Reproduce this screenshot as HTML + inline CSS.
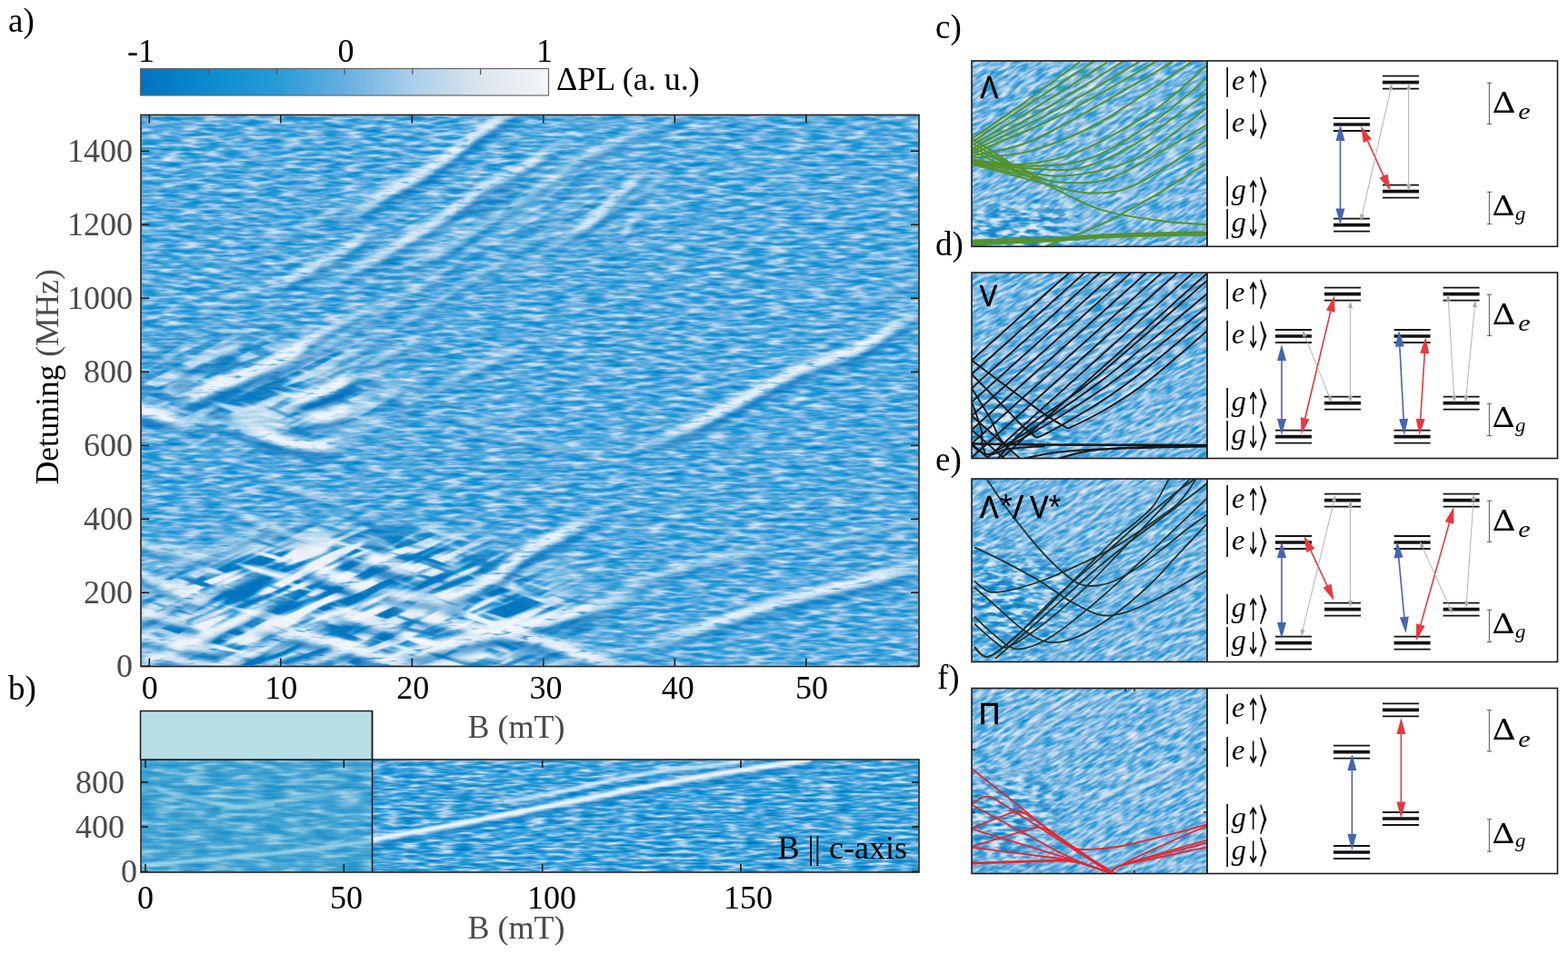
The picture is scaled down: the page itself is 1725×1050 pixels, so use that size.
<!DOCTYPE html>
<html><head><meta charset="utf-8"><title>Figure</title>
<style>
html,body{margin:0;padding:0;background:#fff;width:1725px;height:1050px;overflow:hidden}
svg{position:absolute;left:0;top:0;display:block}
.s{font-family:"Liberation Serif","DejaVu Serif",serif;font-size:36px}
.g{fill:#4a4a4a}
.k{fill:#000}
.ss{font-family:"Liberation Sans","DejaVu Sans",sans-serif}
</style></head>
<body>
<svg width="1725" height="1050" viewBox="0 0 1725 1050">
<defs>
<linearGradient id="cb" x1="0" x2="1" y1="0" y2="0">
<stop offset="0" stop-color="#0073bd"/><stop offset="0.167" stop-color="#0b8cce"/><stop offset="0.333" stop-color="#259bd7"/>
<stop offset="0.5" stop-color="#66afe0"/><stop offset="0.667" stop-color="#a9cfec"/><stop offset="0.833" stop-color="#dce5ee"/>
<stop offset="1" stop-color="#f3f5f8"/></linearGradient>
<filter id="nzA" x="0" y="0" width="100%" height="100%" color-interpolation-filters="sRGB">
<feTurbulence type="fractalNoise" baseFrequency="0.045 0.24" numOctaves="2" seed="7"/>
<feColorMatrix type="matrix" values="1 0 0 0 0 1 0 0 0 0 1 0 0 0 0 0 0 0 0 1"/>
<feComponentTransfer>
<feFuncR type="table" tableValues="0.000 0.000 0.012 0.027 0.039 0.067 0.102 0.133 0.192 0.275 0.353 0.435 0.518 0.600 0.678 0.741 0.804 0.867 0.894 0.922 0.949"/>
<feFuncG type="table" tableValues="0.451 0.451 0.478 0.510 0.541 0.565 0.580 0.600 0.624 0.647 0.671 0.702 0.741 0.780 0.820 0.847 0.875 0.898 0.918 0.937 0.961"/>
<feFuncB type="table" tableValues="0.741 0.741 0.761 0.780 0.804 0.816 0.827 0.839 0.851 0.863 0.871 0.886 0.898 0.914 0.925 0.929 0.929 0.933 0.945 0.961 0.973"/>
</feComponentTransfer>
</filter>
<filter id="nzA2" x="0" y="0" width="100%" height="100%" color-interpolation-filters="sRGB">
<feTurbulence type="fractalNoise" baseFrequency="0.03 0.1" numOctaves="2" seed="19"/>
<feColorMatrix type="matrix" values="1 0 0 0 0 1 0 0 0 0 1 0 0 0 0 0 0 0 0 1"/>
<feComponentTransfer>
<feFuncR type="table" tableValues="0.000 0.000 0.000 0.000 0.000 0.000 0.000 0.000 0.012 0.094 0.322 0.635 0.871 0.953 0.953 0.953 0.953 0.953 0.953 0.953 0.953"/>
<feFuncG type="table" tableValues="0.451 0.451 0.451 0.451 0.451 0.451 0.451 0.451 0.482 0.580 0.663 0.800 0.906 0.961 0.961 0.961 0.961 0.961 0.961 0.961 0.961"/>
<feFuncB type="table" tableValues="0.741 0.741 0.741 0.741 0.741 0.741 0.741 0.741 0.761 0.824 0.867 0.922 0.937 0.973 0.973 0.973 0.973 0.973 0.973 0.973 0.973"/>
</feComponentTransfer>
</filter>
<filter id="nzX1" x="0" y="0" width="100%" height="100%" color-interpolation-filters="sRGB">
<feTurbulence type="fractalNoise" baseFrequency="0.012 0.1" numOctaves="2" seed="41"/>
<feColorMatrix type="matrix" values="1 0 0 0 0 1 0 0 0 0 1 0 0 0 0 0 0 0 0 1"/>
<feComponentTransfer>
<feFuncR type="table" tableValues="0.000 0.000 0.000 0.000 0.000 0.000 0.000 0.000 0.008 0.114 0.447 0.800 0.953 0.953 0.953 0.953 0.953 0.953 0.953 0.953 0.953"/>
<feFuncG type="table" tableValues="0.451 0.451 0.451 0.451 0.451 0.451 0.451 0.451 0.471 0.588 0.710 0.871 0.961 0.961 0.961 0.961 0.961 0.961 0.961 0.961 0.961"/>
<feFuncB type="table" tableValues="0.741 0.741 0.741 0.741 0.741 0.741 0.741 0.741 0.753 0.831 0.886 0.929 0.973 0.973 0.973 0.973 0.973 0.973 0.973 0.973 0.973"/>
</feComponentTransfer>
</filter>
<filter id="nzX2" x="0" y="0" width="100%" height="100%" color-interpolation-filters="sRGB">
<feTurbulence type="fractalNoise" baseFrequency="0.02 0.085" numOctaves="2" seed="43"/>
<feColorMatrix type="matrix" values="1 0 0 0 0 1 0 0 0 0 1 0 0 0 0 0 0 0 0 1"/>
<feComponentTransfer>
<feFuncR type="table" tableValues="0.000 0.000 0.000 0.000 0.000 0.000 0.000 0.000 0.000 0.082 0.447 0.859 0.953 0.953 0.953 0.953 0.953 0.953 0.953 0.953 0.953"/>
<feFuncG type="table" tableValues="0.451 0.451 0.451 0.451 0.451 0.451 0.451 0.451 0.451 0.573 0.710 0.898 0.961 0.961 0.961 0.961 0.961 0.961 0.961 0.961 0.961"/>
<feFuncB type="table" tableValues="0.741 0.741 0.741 0.741 0.741 0.741 0.741 0.741 0.741 0.820 0.886 0.933 0.973 0.973 0.973 0.973 0.973 0.973 0.973 0.973 0.973"/>
</feComponentTransfer>
</filter>
<filter id="nzX2w" x="0" y="0" width="100%" height="100%" color-interpolation-filters="sRGB"><feTurbulence type="fractalNoise" baseFrequency="0.012 0.1" numOctaves="2" seed="43"/>
<feColorMatrix type="matrix" values="0 0 0 0 0.95 0 0 0 0 0.965 0 0 0 0 0.98 6 0 0 0 -3.3"/></filter>
<filter id="nzX2d" x="0" y="0" width="100%" height="100%" color-interpolation-filters="sRGB"><feTurbulence type="fractalNoise" baseFrequency="0.012 0.1" numOctaves="2" seed="43"/>
<feColorMatrix type="matrix" values="0 0 0 0 0.02 0 0 0 0 0.47 0 0 0 0 0.76 -6 0 0 0 2.5"/></filter>
<radialGradient id="gA1" cx="390" cy="680" r="1" gradientUnits="userSpaceOnUse" gradientTransform="translate(390 680) scale(290 120) translate(-390 -680)">
<stop offset="0" stop-color="#fff" stop-opacity="1"/><stop offset="0.65" stop-color="#fff" stop-opacity="0.95"/><stop offset="1" stop-color="#fff" stop-opacity="0"/></radialGradient>
<radialGradient id="gA2" cx="290" cy="430" r="1" gradientUnits="userSpaceOnUse" gradientTransform="translate(290 430) scale(200 80) translate(-290 -430)">
<stop offset="0" stop-color="#fff" stop-opacity="0.8"/><stop offset="0.5" stop-color="#fff" stop-opacity="0.6"/><stop offset="1" stop-color="#fff" stop-opacity="0"/></radialGradient>
<radialGradient id="gA3" cx="560" cy="230" r="1" gradientUnits="userSpaceOnUse" gradientTransform="translate(560 230) scale(260 110) translate(-560 -230)">
<stop offset="0" stop-color="#fff" stop-opacity="0.35"/><stop offset="1" stop-color="#fff" stop-opacity="0"/></radialGradient>
<mask id="mA2" maskUnits="userSpaceOnUse" x="0" y="0" width="1725" height="1050"><rect x="0" y="0" width="1725" height="1050" fill="#000"/>
<rect x="0" y="0" width="1725" height="1050" fill="url(#gA1)"/><rect x="0" y="0" width="1725" height="1050" fill="url(#gA2)"/><rect x="0" y="0" width="1725" height="1050" fill="url(#gA3)"/></mask>
<filter id="nzB" x="0" y="0" width="100%" height="100%" color-interpolation-filters="sRGB">
<feTurbulence type="fractalNoise" baseFrequency="0.05 0.3" numOctaves="2" seed="11"/>
<feColorMatrix type="matrix" values="1 0 0 0 0 1 0 0 0 0 1 0 0 0 0 0 0 0 0 1"/>
<feComponentTransfer>
<feFuncR type="table" tableValues="0.000 0.000 0.000 0.000 0.016 0.031 0.051 0.086 0.125 0.184 0.278 0.369 0.463 0.557 0.651 0.725 0.800 0.867 0.898 0.929 0.953"/>
<feFuncG type="table" tableValues="0.451 0.451 0.451 0.451 0.486 0.522 0.553 0.576 0.596 0.620 0.647 0.678 0.718 0.761 0.808 0.839 0.871 0.902 0.922 0.945 0.961"/>
<feFuncB type="table" tableValues="0.741 0.741 0.741 0.741 0.765 0.788 0.812 0.824 0.835 0.847 0.863 0.875 0.890 0.906 0.925 0.929 0.929 0.933 0.949 0.965 0.973"/>
</feComponentTransfer>
</filter>
<filter id="nzBL" x="0" y="0" width="100%" height="100%" color-interpolation-filters="sRGB">
<feTurbulence type="fractalNoise" baseFrequency="0.035 0.2" numOctaves="2" seed="23"/>
<feColorMatrix type="matrix" values="1 0 0 0 0 1 0 0 0 0 1 0 0 0 0 0 0 0 0 1"/>
<feComponentTransfer>
<feFuncR type="table" tableValues="0.118 0.118 0.118 0.118 0.124 0.151 0.177 0.203 0.230 0.256 0.282 0.338 0.393 0.448 0.503 0.558 0.614 0.627 0.627 0.627 0.627"/>
<feFuncG type="table" tableValues="0.569 0.569 0.569 0.569 0.572 0.585 0.598 0.611 0.625 0.638 0.651 0.679 0.706 0.734 0.761 0.789 0.817 0.824 0.824 0.824 0.824"/>
<feFuncB type="table" tableValues="0.796 0.796 0.796 0.796 0.797 0.803 0.809 0.814 0.820 0.826 0.831 0.841 0.851 0.861 0.872 0.882 0.892 0.894 0.894 0.894 0.894"/>
</feComponentTransfer>
</filter>
<filter id="blur1" x="-5%" y="-20%" width="110%" height="140%"><feGaussianBlur stdDeviation="1.2"/></filter>
<filter id="nzP" x="0" y="0" width="100%" height="100%" color-interpolation-filters="sRGB">
<feTurbulence type="fractalNoise" baseFrequency="0.07 0.3" numOctaves="2" seed="5"/>
<feColorMatrix type="matrix" values="1 0 0 0 0 1 0 0 0 0 1 0 0 0 0 0 0 0 0 1"/>
<feComponentTransfer>
<feFuncR type="table" tableValues="0.012 0.027 0.039 0.063 0.094 0.125 0.173 0.247 0.325 0.400 0.478 0.557 0.635 0.702 0.761 0.824 0.871 0.898 0.925 0.953 0.953"/>
<feFuncG type="table" tableValues="0.478 0.510 0.541 0.561 0.580 0.596 0.616 0.639 0.663 0.686 0.725 0.761 0.800 0.827 0.855 0.882 0.906 0.922 0.941 0.961 0.961"/>
<feFuncB type="table" tableValues="0.761 0.780 0.800 0.816 0.824 0.835 0.847 0.859 0.867 0.878 0.894 0.906 0.922 0.925 0.929 0.933 0.937 0.949 0.961 0.973 0.973"/>
</feComponentTransfer>
</filter>
<filter id="nzP2" x="0" y="0" width="100%" height="100%" color-interpolation-filters="sRGB">
<feTurbulence type="fractalNoise" baseFrequency="0.07 0.2" numOctaves="2" seed="31"/>
<feColorMatrix type="matrix" values="1 0 0 0 0 1 0 0 0 0 1 0 0 0 0 0 0 0 0 1"/>
<feComponentTransfer>
<feFuncR type="table" tableValues="0.000 0.000 0.000 0.000 0.000 0.000 0.000 0.012 0.059 0.141 0.353 0.573 0.761 0.894 0.953 0.953 0.953 0.953 0.953 0.953 0.953"/>
<feFuncG type="table" tableValues="0.451 0.451 0.451 0.451 0.451 0.451 0.451 0.478 0.557 0.608 0.671 0.769 0.855 0.918 0.961 0.961 0.961 0.961 0.961 0.961 0.961"/>
<feFuncB type="table" tableValues="0.741 0.741 0.741 0.741 0.741 0.741 0.741 0.761 0.812 0.843 0.871 0.910 0.929 0.945 0.973 0.973 0.973 0.973 0.973 0.973 0.973"/>
</feComponentTransfer>
</filter>
<linearGradient id="fadeW" x1="0" x2="1" y1="0" y2="0"><stop offset="0" stop-color="#f2f6fa" stop-opacity="0"/><stop offset="0.22" stop-color="#f2f6fa" stop-opacity="1"/><stop offset="0.78" stop-color="#f2f6fa" stop-opacity="1"/><stop offset="1" stop-color="#f2f6fa" stop-opacity="0"/></linearGradient>
<linearGradient id="fadeD" x1="0" x2="1" y1="0" y2="0"><stop offset="0" stop-color="#0070bb" stop-opacity="0"/><stop offset="0.22" stop-color="#0070bb" stop-opacity="1"/><stop offset="0.78" stop-color="#0070bb" stop-opacity="1"/><stop offset="1" stop-color="#0070bb" stop-opacity="0"/></linearGradient>
<filter id="nzMaskF" x="0" y="0" width="100%" height="100%" color-interpolation-filters="sRGB"><feTurbulence type="fractalNoise" baseFrequency="0.06 0.3" numOctaves="2" seed="77"/>
<feColorMatrix type="matrix" values="0 0 0 0 1 0 0 0 0 1 0 0 0 0 1 3 0 0 0 -0.4"/></filter>
<mask id="mNoise" maskUnits="userSpaceOnUse" x="150" y="120" width="870" height="620"><rect x="150" y="120" width="870" height="620" filter="url(#nzMaskF)"/></mask>
<filter id="blur15" x="-5%" y="-5%" width="110%" height="110%"><feGaussianBlur stdDeviation="2.3"/></filter>
<filter id="blur2" x="-5%" y="-5%" width="110%" height="110%"><feGaussianBlur stdDeviation="3.2"/></filter>
</defs>
<rect width="1725" height="1050" fill="#fff"/>
<text class="s k" x="9" y="35" style="font-size:37px">a)</text>
<text class="s k" x="9" y="770" style="font-size:37px">b)</text>
<rect x="154.5" y="75.5" width="449" height="29.5" fill="url(#cb)" stroke="#666" stroke-width="1.2"/>
<g stroke="#555" stroke-width="1.2">
<line x1="229.3" y1="76" x2="229.3" y2="82"/>
<line x1="304.2" y1="76" x2="304.2" y2="82"/>
<line x1="379" y1="76" x2="379" y2="82"/>
<line x1="453.8" y1="76" x2="453.8" y2="82"/>
<line x1="528.6" y1="76" x2="528.6" y2="82"/>
</g>
<text class="s k" x="155" y="68" text-anchor="middle">-1</text>
<text class="s k" x="380.5" y="68" text-anchor="middle">0</text>
<text class="s k" x="599" y="68" text-anchor="middle">1</text>
<text class="s k" x="612" y="99">ΔPL (a. u.)</text>
<clipPath id="clipA"><rect x="155.8" y="127.3" width="854.4" height="605.2"/></clipPath>
<g clip-path="url(#clipA)">
<rect x="155.8" y="127.3" width="854.4" height="605.2" filter="url(#nzA)"/>
<g mask="url(#mA2)">
<rect x="-100" y="300" width="1000" height="700" transform="rotate(-24 400 650)" filter="url(#nzX1)"/>
<rect x="-100" y="300" width="1000" height="700" transform="rotate(16 400 650)" filter="url(#nzX2w)"/>
<rect x="-100" y="300" width="1000" height="700" transform="rotate(16 400 650)" filter="url(#nzX2d)"/>
</g>
<g filter="url(#blur2)" fill="none" stroke-linecap="round" stroke-linejoin="round">
<path d="M374.2,251.1 C379.3,248.7 397,241 404.8,236.8 C412.6,232.5 412.5,230.6 421.1,225.6 C429.6,220.6 446.2,212.2 455.9,206.7 C465.7,201.2 471.4,197.5 479.4,192.4 C487.4,187.3 496.1,181.9 504,176 C511.9,170.1 517.8,163.7 526.9,157.1 C536,150.5 546.9,143.9 558.5,136.4 C570,128.8 589.8,115.8 596.1,111.7" stroke="url(#fadeD)" stroke-width="8.8" stroke-opacity="0.72"/>
<path d="M294.2,330.6 C301.7,326.5 325.8,312.9 339.1,305.7 C352.5,298.5 363.8,293.6 374.3,287.6 C384.9,281.6 394.2,274.5 402.5,269.5 C410.8,264.5 420.6,259.7 424.2,257.7" stroke="url(#fadeD)" stroke-width="7.7" stroke-opacity="0.60"/>
<path d="M348.7,325.9 C354.1,323.4 369.7,316.5 381,310.8 C392.2,305.1 403.9,298.7 416.3,291.6 C428.7,284.6 443,275.9 455.5,268.5 C467.9,261.1 479.3,255.2 490.9,247.2 C502.6,239.3 517.6,226.9 525.3,220.9 C533,215 529.6,215.9 537.2,211.7 C544.9,207.5 559.6,201.9 571.1,195.7 C582.7,189.5 596.6,180.5 606.6,174.5 C616.5,168.4 623.5,163.9 630.7,159.4 C637.8,154.9 646.5,149.4 649.7,147.4" stroke="url(#fadeD)" stroke-width="7.7" stroke-opacity="0.60"/>
<path d="M623.2,266.1 C626.8,264.7 637.7,261.4 644.3,257.6 C650.9,253.8 657.1,248.7 662.9,243.5 C668.7,238.3 671.8,233 679,226.4 C686.1,219.8 698.7,209.5 705.6,203.7 C712.5,198 718,193.8 720.5,191.8" stroke="url(#fadeD)" stroke-width="7.7" stroke-opacity="0.60"/>
<path d="M688,263.8 C689.6,261.7 695,254.3 697.8,251 C700.5,247.8 703.3,245.5 704.4,244.4" stroke="url(#fadeD)" stroke-width="5.5" stroke-opacity="0.42"/>
<path d="M616,192.5 C620.5,190 633.8,182.1 642.8,177.6 C651.8,173.1 659.8,170.6 669.8,165.6 C679.8,160.6 697.5,150.5 703,147.5" stroke="url(#fadeD)" stroke-width="5.5" stroke-opacity="0.42"/>
<path d="M661.5,268.1 C665.6,267 679.1,264.2 685.9,261.9 C692.8,259.7 699.7,255.9 702.5,254.7" stroke="url(#fadeD)" stroke-width="5.5" stroke-opacity="0.42"/>
<path d="M621.3,184.1 C626.2,183.1 637.6,182.8 651.1,177.9 C664.7,173 689,160.7 702.5,154.7 C716.1,148.7 720.6,146.9 732.5,141.7 C744.4,136.6 766.9,126.8 773.8,123.8" stroke="url(#fadeD)" stroke-width="5.5" stroke-opacity="0.36"/>
<path d="M202.3,355.8 C210.6,352.5 235.4,341.2 251.9,336 C268.4,330.7 293.2,326.1 301.5,324.1" stroke="url(#fadeD)" stroke-width="5.5" stroke-opacity="0.30"/>
<path d="M192.3,415.8 C199.8,412.8 222.4,404.1 237.4,397.8 C252.5,391.4 275,381.1 282.5,377.7" stroke="url(#fadeD)" stroke-width="5.5" stroke-opacity="0.36"/>
<path d="M253.1,445.5 C261.4,440.8 286.3,426.6 303,417.5 C319.7,408.3 336.4,400 353.1,390.4 C369.8,380.9 386.6,370.8 403.3,360.3 C420.1,349.8 436.7,338.1 453.4,327.2 C470.1,316.4 488.4,305.2 503.5,295.2 C518.5,285.2 536.9,271.8 543.6,267.1" stroke="url(#fadeD)" stroke-width="5.5" stroke-opacity="0.36"/>
<path d="M333.1,425.5 C341.4,420.8 366.4,407.1 383.1,397.4 C399.8,387.7 416.5,377.4 433.2,367.4 C449.9,357.3 466.6,347.7 483.3,337.3 C500,327 516.7,315.9 533.4,305.3 C550.1,294.6 568.4,283.2 583.5,273.2 C598.5,263.2 616.9,249.8 623.6,245.1" stroke="url(#fadeD)" stroke-width="5.5" stroke-opacity="0.36"/>
<path d="M563.2,305.4 C571.5,300.4 596.5,285.4 613.2,275.4 C629.9,265.4 648.2,254.5 663.3,245.3 C678.3,236.2 690,228.6 703.3,220.3 C716.7,212 736.6,199.5 743.3,195.3" stroke="url(#fadeD)" stroke-width="5.5" stroke-opacity="0.36"/>
<path d="M189.6,457.6 C192.2,456.6 196.7,455.1 205,451.4 C213.4,447.8 227.2,440.6 239.6,435.6 C252.1,430.6 266.2,427 279.6,421.6 C293.1,416.2 310.3,408.3 320.6,403.2 C330.8,398.1 332.7,395.6 341.1,390.9 C349.5,386.2 365.9,377.7 370.9,375" stroke="url(#fadeD)" stroke-width="11" stroke-opacity="0.84"/>
<path d="M302.8,399 C305.4,397.9 307.4,398.1 318.3,392.7 C329.3,387.3 353.4,374.4 368.4,366.7 C383.4,359 395.9,353 408.4,346.7 C420.9,340.4 437.6,331.7 443.4,328.7" stroke="url(#fadeD)" stroke-width="6.6" stroke-opacity="0.54"/>
<path d="M313.2,454.1 C320.9,452 346.1,446.9 359.5,441.6 C372.9,436.4 386.3,427.1 393.6,422.6 C400.9,418.1 401.6,415.8 403.2,414.4" stroke="url(#fadeD)" stroke-width="11" stroke-opacity="0.84"/>
<path d="M331.8,473.1 C336.9,472.3 352.1,470.1 362.2,468 C372.3,466 387.5,462.1 392.6,461" stroke="url(#fadeD)" stroke-width="9.9" stroke-opacity="0.72"/>
<path d="M261.6,480.7 C265.7,482 278.1,486 286.6,488.7 C295.1,491.4 303,494.9 312.6,497 C322.2,499.1 332.3,500.5 344.4,501.2 C356.4,501.9 378.2,501.2 385,501.2" stroke="url(#fadeD)" stroke-width="9.9" stroke-opacity="0.72"/>
<path d="M103.6,450.4 C110.9,452.2 135.9,458.2 147.4,460.9 C158.8,463.7 162.3,464.4 172.3,466.9 C182.2,469.4 201.4,474.4 207.2,475.9" stroke="url(#fadeD)" stroke-width="9.9" stroke-opacity="0.72"/>
<path d="M109.4,380.7 C116.8,381.9 143.1,385.8 153.9,387.4 C164.6,389 170.6,389.9 173.9,390.4" stroke="url(#fadeD)" stroke-width="6.6" stroke-opacity="0.36"/>
<path d="M398.4,411.7 C400,410.9 398.3,411.6 408.3,406.8 C418.2,401.9 447.4,387.8 458.1,382.8 C468.9,377.8 470.3,377.9 472.8,377" stroke="url(#fadeD)" stroke-width="6.6" stroke-opacity="0.48"/>
<path d="M482.8,431 C486.2,429.6 493.1,427.5 503.2,422.8 C513.2,418.1 533.9,407.1 543.2,402.8 C552.4,398.5 552.2,399.6 558.8,397 C565.4,394.3 578.9,388.6 582.9,386.9" stroke="url(#fadeD)" stroke-width="6.6" stroke-opacity="0.48"/>
<path d="M418.5,449.2 C423.5,445.9 443.5,432.5 448.5,429.2" stroke="url(#fadeD)" stroke-width="5.5" stroke-opacity="0.42"/>
<path d="M500.6,470.2 C507.4,469.5 524.4,469.5 541.2,466.1 C558.1,462.8 591.5,452.7 601.6,450" stroke="url(#fadeD)" stroke-width="5.5" stroke-opacity="0.36"/>
<path d="M687.2,505.5 C693.2,503.5 710.6,498.1 723.5,493.4 C736.3,488.7 750.6,483.2 764.1,477.1 C777.6,471 790.3,464.3 804.6,456.9 C818.9,449.5 836.8,439.6 849.7,432.9 C862.5,426.1 870,421.3 881.9,416.2 C893.9,411.1 910.1,406.5 921.4,402.4 C932.6,398.4 939.2,397.1 949.5,391.9 C959.8,386.8 972.3,378.3 983.2,371.5 C994.2,364.8 1003.6,358.8 1015.3,351.5 C1027,344.2 1047.1,331.6 1053.5,327.6" stroke="url(#fadeD)" stroke-width="8.8" stroke-opacity="0.72"/>
<path d="M934.8,349.6 C941.5,346.3 961.8,336.1 974.8,329.6 C987.8,323.1 999.8,317.1 1012.8,310.6 C1025.8,304.1 1046.3,293.8 1053,290.5" stroke="url(#fadeD)" stroke-width="5.5" stroke-opacity="0.30"/>
<path d="M483.6,456.8 C495.6,461.7 532.6,479.1 555.2,486 C577.7,492.9 601,495.1 619,498.2 C637,501.2 655.8,503.2 663.2,504.2" stroke="url(#fadeD)" stroke-width="5.5" stroke-opacity="0.36"/>
<path d="M242.9,305.5 C252.9,300.2 282.9,284.2 302.9,273.5 C322.9,262.8 342.9,252.2 362.9,241.5 C382.9,230.9 404.6,219.2 422.9,209.5 C441.2,199.9 464.6,187.9 472.9,183.5" stroke="url(#fadeD)" stroke-width="5.5" stroke-opacity="0.36"/>
<path d="M422.4,307.1 C432.7,303.5 465.9,294.3 484.2,285.8 C502.4,277.3 518.2,265.2 532.1,256.3 C545.9,247.4 555.3,240.1 567.1,232.3 C579,224.4 591.3,217.1 603.1,209.3 C615,201.4 626.4,193.2 638.2,185.2 C650,177.2 668.2,165.2 674.2,161.2" stroke="url(#fadeD)" stroke-width="6.6" stroke-opacity="0.42"/>
<path d="M473.4,672.7 C481.9,670 510.4,662 524.2,656.4 C538,650.9 545.9,646.2 556.2,639.4 C566.5,632.5 574.5,622.7 586,615.5 C597.5,608.3 611.9,602.6 625,596.1 C638.2,589.5 658.4,579.4 665,576.1" stroke="url(#fadeD)" stroke-width="9.9" stroke-opacity="0.72"/>
<path d="M389.7,747 C396.9,744.9 417.6,739.2 433,734.8 C448.5,730.5 464.4,725.3 482.6,720.9 C500.8,716.6 525.7,712.7 542.4,709 C559.1,705.3 567.8,702.9 582.9,698.9 C598,694.8 619.6,688.5 633,684.8 C646.3,681.2 647.9,680.9 662.9,676.9 C677.9,672.9 712.9,663.5 722.9,660.9" stroke="url(#fadeD)" stroke-width="9.9" stroke-opacity="0.66"/>
<path d="M664.3,670.1 C667.5,667.9 673.6,661.6 683.4,656.7 C693.1,651.9 712.8,644.6 722.6,641 C732.4,637.5 728.8,638.8 742,635.2 C755.1,631.6 781.6,623.3 801.5,619.4 C821.3,615.4 851.1,612.8 861,611.4" stroke="url(#fadeD)" stroke-width="6.6" stroke-opacity="0.48"/>
<path d="M695.1,730.6 C696.6,729.7 692.4,729.8 703.7,725.3 C715.1,720.8 743.4,710.4 763.3,703.4 C783.2,696.5 803.1,689.8 823,683.5 C842.9,677.2 862.7,671 882.6,665.7 C902.5,660.4 921.1,657 942.4,651.7 C963.8,646.4 992,638.6 1010.6,633.7 C1029.2,628.7 1046.8,624.1 1054.1,622.2" stroke="url(#fadeD)" stroke-width="8.8" stroke-opacity="0.60"/>
<path d="M860.9,660.2 C867.6,659.2 887.6,656.5 901.1,654.2 C914.6,651.8 923.6,651.4 941.8,646 C959.9,640.6 991.6,628.4 1010.1,621.9 C1028.5,615.4 1045.4,609.4 1052.5,606.9" stroke="url(#fadeD)" stroke-width="5.5" stroke-opacity="0.42"/>
<path d="M871.4,612.1 C883.1,609.4 918.5,601.7 941.5,596.1 C964.5,590.4 991,583 1009.6,578 C1028.2,573.1 1045.9,568.4 1053.1,566.5" stroke="url(#fadeD)" stroke-width="5.5" stroke-opacity="0.36"/>
<path d="M557.7,750.2 C565.1,748.5 587.7,743.5 601.6,740.3 C615.6,737.2 626.5,734.2 641.4,731.4 C656.3,728.6 682.9,724.7 691.2,723.4" stroke="url(#fadeD)" stroke-width="6.6" stroke-opacity="0.48"/>
<path d="M427,678.8 C435.4,681.2 458.9,688.6 477.4,692.9 C495.9,697.3 517.8,701 537.8,705 C557.8,709 580.7,712.6 597.2,716.9 C613.6,721.2 624.4,726.5 636.3,730.6 C648.2,734.8 655.9,737.4 668.3,741.6 C680.8,745.9 703.8,753.8 710.9,756.3" stroke="url(#fadeD)" stroke-width="9.9" stroke-opacity="0.66"/>
<path d="M272.3,694.9 C285.6,698.2 328.8,708.6 352.1,714.9 C375.3,721.2 397.6,728.3 411.6,732.7 C425.6,737.2 425,737.6 436.2,741.6 C447.3,745.6 471.5,754.3 478.5,756.8" stroke="url(#fadeD)" stroke-width="9.9" stroke-opacity="0.72"/>
<path d="M361.6,680.7 C370,683.4 397.6,692.8 411.9,696.8 C426.3,700.9 441.6,703.6 447.5,705" stroke="url(#fadeD)" stroke-width="9.9" stroke-opacity="0.60"/>
<path d="M330.9,633.8 C337.5,636.1 359.2,643.8 370.9,647.8 C382.6,651.8 396,656.2 401,657.9" stroke="url(#fadeD)" stroke-width="11" stroke-opacity="0.72"/>
<path d="M391.8,620.8 C398.4,622.8 419.3,629.1 431.8,632.8 C444.4,636.5 461.1,641.1 466.9,642.8" stroke="url(#fadeD)" stroke-width="9.9" stroke-opacity="0.72"/>
<path d="M413.5,659.9 C420.3,660.9 440.5,664.6 454,666 C467.5,667.3 487.8,667.6 494.5,668" stroke="url(#fadeD)" stroke-width="8.8" stroke-opacity="0.60"/>
<path d="M114.2,600.6 C121.5,601.9 141.9,605.6 158.4,608.6 C175,611.6 198.3,615.6 213.3,618.6 C228.2,621.6 242.3,625.2 248.1,626.5" stroke="url(#fadeD)" stroke-width="7.7" stroke-opacity="0.48"/>
<path d="M115.4,623.2 C122.3,626.4 143.7,636.2 156.4,642 C169,647.7 182,653.5 191.3,657.9 C200.5,662.3 204.1,665.1 211.8,668.1 C219.4,671.2 233.1,675 237.3,676.3" stroke="url(#fadeD)" stroke-width="7.7" stroke-opacity="0.60"/>
<path d="M114.3,670.9 C121.5,672.8 143,678.5 157.7,682.5 C172.5,686.4 189.5,691.1 202.9,694.5 C216.3,697.8 232.2,701.2 238.1,702.5" stroke="url(#fadeD)" stroke-width="7.7" stroke-opacity="0.60"/>
<path d="M114.2,702.6 C121.5,703.9 141.9,707.6 158.4,710.6 C175,713.6 196.8,717.6 213.4,720.6 C230.1,723.6 251,727.3 258.5,728.6" stroke="url(#fadeD)" stroke-width="7.7" stroke-opacity="0.60"/>
<path d="M134.2,725.5 C141.6,726.7 162.9,730.1 178.6,732.6 C194.4,735.2 212.9,738.1 228.6,740.6 C244.4,743.2 265.6,746.6 273.1,747.7" stroke="url(#fadeD)" stroke-width="7.7" stroke-opacity="0.48"/>
<path d="M247.2,567 C255.5,570.3 282.2,581 297.2,587 C312.2,593 330.5,600.3 337.2,603" stroke="url(#fadeD)" stroke-width="6.6" stroke-opacity="0.48"/>
<path d="M297.7,537.1 C306,539.8 334.4,548.8 347.7,553.1 C361,557.5 372.6,561.5 377.6,563.1" stroke="url(#fadeD)" stroke-width="6.6" stroke-opacity="0.42"/>
<path d="M122.6,756.4 C129.4,753.4 150.1,744.1 163.6,738 C177.1,731.9 189.5,726.6 203.7,719.9 C217.9,713.2 233.8,705.2 248.8,697.9 C263.8,690.5 279.6,682.6 293.7,675.9 C307.9,669.3 326.9,661 333.6,658" stroke="url(#fadeD)" stroke-width="7.7" stroke-opacity="0.66"/>
<path d="M201.5,756.8 C208.4,754.1 227.9,746.3 243.2,740.1 C258.6,734 276.7,727.1 293.4,720.1 C310.1,713.1 328.3,704.1 343.2,698.1 C358.2,692.2 376.3,686.6 382.9,684.3" stroke="url(#fadeD)" stroke-width="7.7" stroke-opacity="0.60"/>
<path d="M121,703.7 C128,700.9 147.5,693.1 162.8,687 C178.1,680.8 196.1,673.6 212.8,667 C229.5,660.3 247.8,653 262.8,647 C277.8,641 296.1,633.6 302.8,631" stroke="url(#fadeD)" stroke-width="6.6" stroke-opacity="0.54"/>
<path d="M172.8,639 C181.1,635.6 206.2,625.9 222.9,618.9 C239.6,611.9 256.3,603.9 272.9,596.9 C289.6,589.9 314.5,580.3 322.8,577" stroke="url(#fadeD)" stroke-width="6.6" stroke-opacity="0.54"/>
<path d="M290.2,755.8 C297.3,753.4 317.3,746.5 332.8,741.3 C348.3,736 367.9,729.7 383,724.2 C398.1,718.7 416.5,710.8 423.2,708.1" stroke="url(#fadeD)" stroke-width="7.7" stroke-opacity="0.60"/>
<ellipse cx="295" cy="406" rx="18" ry="6" transform="rotate(-12 295 406)" fill="#0070bb" fill-opacity="0.8" stroke="none"/>
<ellipse cx="365" cy="438" rx="18" ry="6" transform="rotate(-15 365 438)" fill="#0070bb" fill-opacity="0.8" stroke="none"/>
<ellipse cx="200" cy="424" rx="14" ry="5" transform="rotate(-10 200 424)" fill="#0070bb" fill-opacity="0.6" stroke="none"/>
<ellipse cx="240" cy="458" rx="16" ry="5" transform="rotate(10 240 458)" fill="#0070bb" fill-opacity="0.6" stroke="none"/>
<ellipse cx="255" cy="398" rx="12" ry="5" transform="rotate(-10 255 398)" fill="#0070bb" fill-opacity="0.5" stroke="none"/>
<ellipse cx="330" cy="475" rx="14" ry="5" transform="rotate(10 330 475)" fill="#0070bb" fill-opacity="0.6" stroke="none"/>
<ellipse cx="410" cy="424" rx="12" ry="5" transform="rotate(-15 410 424)" fill="#0070bb" fill-opacity="0.5" stroke="none"/>
<ellipse cx="415" cy="602" rx="16" ry="6" transform="rotate(20 415 602)" fill="#0070bb" fill-opacity="0.7" stroke="none"/>
<ellipse cx="385" cy="620" rx="14" ry="6" transform="rotate(20 385 620)" fill="#0070bb" fill-opacity="0.7" stroke="none"/>
<ellipse cx="425" cy="636" rx="14" ry="6" transform="rotate(15 425 636)" fill="#0070bb" fill-opacity="0.6" stroke="none"/>
<ellipse cx="465" cy="654" rx="16" ry="6" transform="rotate(10 465 654)" fill="#0070bb" fill-opacity="0.6" stroke="none"/>
<ellipse cx="425" cy="690" rx="18" ry="6" transform="rotate(18 425 690)" fill="#0070bb" fill-opacity="0.6" stroke="none"/>
<ellipse cx="295" cy="416" rx="16" ry="6" transform="rotate(-10 295 416)" fill="#0070bb" fill-opacity="0.5" stroke="none"/>
<ellipse cx="365" cy="436" rx="14" ry="6" transform="rotate(-15 365 436)" fill="#0070bb" fill-opacity="0.5" stroke="none"/>
<ellipse cx="540" cy="700" rx="14" ry="5" transform="rotate(-15 540 700)" fill="#0070bb" fill-opacity="0.5" stroke="none"/>
<ellipse cx="500" cy="676" rx="14" ry="6" transform="rotate(-10 500 676)" fill="#0070bb" fill-opacity="0.5" stroke="none"/>
<ellipse cx="360" cy="712" rx="14" ry="5" transform="rotate(15 360 712)" fill="#0070bb" fill-opacity="0.5" stroke="none"/>
<ellipse cx="250" cy="650" rx="12" ry="5" transform="rotate(20 250 650)" fill="#0070bb" fill-opacity="0.5" stroke="none"/>
<ellipse cx="300" cy="700" rx="12" ry="5" transform="rotate(-20 300 700)" fill="#0070bb" fill-opacity="0.5" stroke="none"/>
<ellipse cx="575" cy="724" rx="14" ry="5" transform="rotate(15 575 724)" fill="#0070bb" fill-opacity="0.5" stroke="none"/>
<ellipse cx="640" cy="690" rx="16" ry="5" transform="rotate(-10 640 690)" fill="#0070bb" fill-opacity="0.4" stroke="none"/>
<ellipse cx="480" cy="640" rx="14" ry="5" transform="rotate(-20 480 640)" fill="#0070bb" fill-opacity="0.5" stroke="none"/>
</g>
<g mask="url(#mNoise)"><g filter="url(#blur15)" fill="none" stroke-linecap="round" stroke-linejoin="round">
<path d="M370,242 C375,239.7 392.3,232.2 400,228 C407.7,223.8 407.5,222 416,217 C424.5,212 441.3,203.5 451,198 C460.7,192.5 466.2,189 474,184 C481.8,179 490.2,173.8 498,168 C505.8,162.2 511.8,155.7 521,149 C530.2,142.3 541.4,135.6 553,128 C564.6,120.4 584.4,107.4 590.6,103.3" stroke="url(#fadeW)" stroke-width="11.2" stroke-opacity="0.85"/>
<path d="M290,323 C297.5,318.8 321.7,305.2 335,298 C348.3,290.8 359.5,286 370,280 C380.5,274 389.7,267 398,262 C406.3,257 416.3,252 420,250" stroke="url(#fadeW)" stroke-width="9.8" stroke-opacity="0.76"/>
<path d="M345,318 C350.3,315.5 365.8,308.7 377,303 C388.2,297.3 399.7,291 412,284 C424.3,277 438.7,268.3 451,261 C463.3,253.7 474.5,247.8 486,240 C497.5,232.2 512.2,220 520,214 C527.8,208 525.2,208.3 533,204 C540.8,199.7 555.5,194.2 567,188 C578.5,181.8 592.2,173 602,167 C611.8,161 618.8,156.5 626,152 C633.2,147.5 641.8,142 645,140" stroke="url(#fadeW)" stroke-width="9.8" stroke-opacity="0.76"/>
<path d="M620,258 C623.3,256.7 633.8,253.5 640,250 C646.2,246.5 651.5,242 657,237 C662.5,232 665.8,226.7 673,220 C680.2,213.3 693,202.8 700,197 C707,191.2 712.5,187 715,185" stroke="url(#fadeW)" stroke-width="9.8" stroke-opacity="0.71"/>
<path d="M683,260 C684.7,257.8 690.2,250.3 693,247 C695.8,243.7 698.8,241.2 700,240" stroke="url(#fadeW)" stroke-width="7" stroke-opacity="0.47"/>
<path d="M613,187 C617.5,184.5 631,176.5 640,172 C649,167.5 657,165 667,160 C677,155 694.5,145 700,142" stroke="url(#fadeW)" stroke-width="7" stroke-opacity="0.43"/>
<path d="M660,262 C664,261 677.3,258.2 684,256 C690.7,253.8 697.3,250.2 700,249" stroke="url(#fadeW)" stroke-width="7" stroke-opacity="0.47"/>
<path d="M620,178 C624.8,177 635.7,176.8 649,172 C662.3,167.2 686.5,155 700,149 C713.5,143 718.1,141.1 730,136 C741.9,130.9 764.4,121.1 771.3,118.1" stroke="url(#fadeW)" stroke-width="7" stroke-opacity="0.33"/>
<path d="M200,350 C208.3,346.7 233.3,335.3 250,330 C266.7,324.7 291.7,320 300,318" stroke="url(#fadeW)" stroke-width="7" stroke-opacity="0.28"/>
<path d="M190,410 C197.5,407 220,398.3 235,392 C250,385.7 272.5,375.3 280,372" stroke="url(#fadeW)" stroke-width="7" stroke-opacity="0.43"/>
<path d="M250,440 C258.3,435.3 283.3,421.2 300,412 C316.7,402.8 333.3,394.5 350,385 C366.7,375.5 383.3,365.5 400,355 C416.7,344.5 433.3,332.8 450,322 C466.7,311.2 485,300 500,290 C515,280 533.3,266.7 540,262" stroke="url(#fadeW)" stroke-width="7" stroke-opacity="0.38"/>
<path d="M330,420 C338.3,415.3 363.3,401.7 380,392 C396.7,382.3 413.3,372 430,362 C446.7,352 463.3,342.3 480,332 C496.7,321.7 513.3,310.7 530,300 C546.7,289.3 565,278 580,268 C595,258 613.3,244.7 620,240" stroke="url(#fadeW)" stroke-width="7" stroke-opacity="0.33"/>
<path d="M560,300 C568.3,295 593.3,280 610,270 C626.7,260 645,249.2 660,240 C675,230.8 686.7,223.3 700,215 C713.3,206.7 733.3,194.2 740,190" stroke="url(#fadeW)" stroke-width="7" stroke-opacity="0.33"/>
<path d="M185,446 C187.5,445 191.7,443.7 200,440 C208.3,436.3 222.5,429 235,424 C247.5,419 261.7,415.3 275,410 C288.3,404.7 305,397 315,392 C325,387 326.7,384.7 335,380 C343.3,375.3 360,366.7 365,364" stroke="url(#fadeW)" stroke-width="14" stroke-opacity="0.95"/>
<path d="M300,392 C302.5,391 304.2,391.3 315,386 C325.8,380.7 350,367.7 365,360 C380,352.3 392.5,346.3 405,340 C417.5,333.7 434.2,325 440,322" stroke="url(#fadeW)" stroke-width="8.4" stroke-opacity="0.57"/>
<path d="M310,442 C317.5,440 342.2,435 355,430 C367.8,425 380.3,416.2 387,412 C393.7,407.8 393.7,406.2 395,405" stroke="url(#fadeW)" stroke-width="14" stroke-opacity="0.95"/>
<path d="M330,462 C335,461.2 350,459 360,457 C370,455 385,451.2 390,450" stroke="url(#fadeW)" stroke-width="12.6" stroke-opacity="0.95"/>
<path d="M265,470 C269.2,471.3 281.7,475.3 290,478 C298.3,480.7 305.8,484 315,486 C324.2,488 333.3,489.3 345,490 C356.7,490.7 378.3,490 385,490" stroke="url(#fadeW)" stroke-width="12.6" stroke-opacity="0.95"/>
<path d="M106.2,439.5 C113.5,441.2 138.5,447.2 150,450 C161.5,452.8 165,453.5 175,456 C185,458.5 204.2,463.5 210,465" stroke="url(#fadeW)" stroke-width="12.6" stroke-opacity="0.95"/>
<path d="M110.5,373.3 C117.9,374.4 144.2,378.4 155,380 C165.8,381.6 171.7,382.5 175,383" stroke="url(#fadeW)" stroke-width="8.4" stroke-opacity="0.66"/>
<path d="M395,405 C396.7,404.2 395,404.8 405,400 C415,395.2 444.2,381 455,376 C465.8,371 467.5,371 470,370" stroke="url(#fadeW)" stroke-width="8.4" stroke-opacity="0.57"/>
<path d="M480,424 C483.3,422.7 490,420.7 500,416 C510,411.3 530.7,400.3 540,396 C549.3,391.7 549.3,392.7 556,390 C562.7,387.3 576,381.7 580,380" stroke="url(#fadeW)" stroke-width="8.4" stroke-opacity="0.57"/>
<path d="M415,444 C420,440.7 440,427.3 445,424" stroke="url(#fadeW)" stroke-width="7" stroke-opacity="0.43"/>
<path d="M500,464 C506.7,463.3 523.3,463.3 540,460 C556.7,456.7 590,446.7 600,444" stroke="url(#fadeW)" stroke-width="7" stroke-opacity="0.38"/>
<path d="M684,496 C690,494 707.3,488.7 720,484 C732.7,479.3 746.7,474 760,468 C773.3,462 785.8,455.3 800,448 C814.2,440.7 832,430.8 845,424 C858,417.2 865.8,412.2 878,407 C890.2,401.8 906.8,397 918,393 C929.2,389 935,388 945,383 C955,378 967.2,369.7 978,363 C988.8,356.3 998.3,350.3 1010,343 C1021.7,335.7 1041.8,323.1 1048.2,319.2" stroke="url(#fadeW)" stroke-width="11.2" stroke-opacity="0.90"/>
<path d="M932,344 C938.7,340.7 959,330.5 972,324 C985,317.5 997,311.5 1010,305 C1023,298.5 1043.5,288.2 1050.2,284.9" stroke="url(#fadeW)" stroke-width="7" stroke-opacity="0.33"/>
<path d="M486,451 C497.8,455.8 534.7,473.2 557,480 C579.3,486.8 602.2,489 620,492 C637.8,495 656.7,497 664,498" stroke="url(#fadeW)" stroke-width="7" stroke-opacity="0.38"/>
<path d="M240,300 C250,294.7 280,278.7 300,268 C320,257.3 340,246.7 360,236 C380,225.3 401.7,213.7 420,204 C438.3,194.3 461.7,182.3 470,178" stroke="url(#fadeW)" stroke-width="7" stroke-opacity="0.33"/>
<path d="M420,300 C430.2,296.5 463,287.3 481,279 C499,270.7 514.3,258.8 528,250 C541.7,241.2 551.2,233.8 563,226 C574.8,218.2 587.2,210.8 599,203 C610.8,195.2 622.2,187 634,179 C645.8,171 664,159 670,155" stroke="url(#fadeW)" stroke-width="8.4" stroke-opacity="0.47"/>
<path d="M470,662 C478.3,659.3 506.7,651.3 520,646 C533.3,640.7 540,636.7 550,630 C560,623.3 568.3,613.3 580,606 C591.7,598.7 606.7,592.7 620,586 C633.3,579.3 653.3,569.3 660,566" stroke="url(#fadeW)" stroke-width="12.6" stroke-opacity="0.90"/>
<path d="M386.7,736.1 C393.9,734.1 414.4,728.4 430,724 C445.6,719.6 461.7,714.3 480,710 C498.3,705.7 523.3,701.7 540,698 C556.7,694.3 565,692 580,688 C595,684 616.7,677.7 630,674 C643.3,670.3 645,670 660,666 C675,662 710,652.7 720,650" stroke="url(#fadeW)" stroke-width="12.6" stroke-opacity="0.90"/>
<path d="M660,664 C663.3,661.7 670,655 680,650 C690,645 710,637.7 720,634 C730,630.3 726.7,631.7 740,628 C753.3,624.3 780,616 800,612 C820,608 850,605.3 860,604" stroke="url(#fadeW)" stroke-width="8.4" stroke-opacity="0.57"/>
<path d="M690,722 C691.7,721 688.3,720.7 700,716 C711.7,711.3 740,701 760,694 C780,687 800,680.3 820,674 C840,667.7 860,661.3 880,656 C900,650.7 918.7,647.3 940,642 C961.3,636.7 989.4,628.9 1008,624 C1026.6,619.1 1044.3,614.4 1051.5,612.5" stroke="url(#fadeW)" stroke-width="11.2" stroke-opacity="0.85"/>
<path d="M860,654 C866.7,653 886.7,650.3 900,648 C913.3,645.7 922,645.3 940,640 C958,634.7 989.6,622.5 1008,616 C1026.4,609.5 1043.4,603.5 1050.4,601" stroke="url(#fadeW)" stroke-width="7" stroke-opacity="0.47"/>
<path d="M870,606 C881.7,603.3 917,595.7 940,590 C963,584.3 989.4,576.9 1008,572 C1026.6,567.1 1044.3,562.4 1051.5,560.5" stroke="url(#fadeW)" stroke-width="7" stroke-opacity="0.38"/>
<path d="M556.1,742.9 C563.4,741.2 586,736.1 600,733 C614,729.9 625,726.8 640,724 C655,721.2 681.7,717.3 690,716" stroke="url(#fadeW)" stroke-width="8.4" stroke-opacity="0.57"/>
<path d="M430,668 C438.3,670.3 461.7,677.7 480,682 C498.3,686.3 520,690 540,694 C560,698 583.3,701.7 600,706 C616.7,710.3 628,715.8 640,720 C652,724.2 659.6,726.7 672,731 C684.4,735.3 707.5,743.2 714.6,745.6" stroke="url(#fadeW)" stroke-width="12.6" stroke-opacity="0.90"/>
<path d="M275,684 C288.3,687.3 331.7,697.7 355,704 C378.3,710.3 400.8,717.5 415,722 C429.2,726.5 428.8,727 440,731 C451.2,735 475.3,743.7 482.3,746.2" stroke="url(#fadeW)" stroke-width="12.6" stroke-opacity="0.90"/>
<path d="M365,670 C373.3,672.7 400.8,682 415,686 C429.2,690 444.2,692.7 450,694" stroke="url(#fadeW)" stroke-width="12.6" stroke-opacity="0.90"/>
<path d="M335,622 C341.7,624.3 363.3,632 375,636 C386.7,640 400,644.3 405,646" stroke="url(#fadeW)" stroke-width="14" stroke-opacity="0.90"/>
<path d="M395,610 C401.7,612 422.5,618.3 435,622 C447.5,625.7 464.2,630.3 470,632" stroke="url(#fadeW)" stroke-width="12.6" stroke-opacity="0.85"/>
<path d="M415,650 C421.7,651 441.7,654.7 455,656 C468.3,657.3 488.3,657.7 495,658" stroke="url(#fadeW)" stroke-width="11.2" stroke-opacity="0.76"/>
<path d="M115.7,592 C123.1,593.3 143.5,597 160,600 C176.5,603 200,607 215,610 C230,613 244.2,616.7 250,618" stroke="url(#fadeW)" stroke-width="9.8" stroke-opacity="0.62"/>
<path d="M119.1,615.3 C125.9,618.4 147.3,628.2 160,634 C172.7,639.8 185.8,645.7 195,650 C204.2,654.3 207.5,657 215,660 C222.5,663 235.8,666.7 240,668" stroke="url(#fadeW)" stroke-width="9.8" stroke-opacity="0.71"/>
<path d="M116.5,662.4 C123.8,664.3 145.3,670.1 160,674 C174.7,677.9 191.7,682.7 205,686 C218.3,689.3 234.2,692.7 240,694" stroke="url(#fadeW)" stroke-width="9.8" stroke-opacity="0.76"/>
<path d="M115.7,694 C123.1,695.3 143.5,699 160,702 C176.5,705 198.3,709 215,712 C231.7,715 252.5,718.7 260,720" stroke="url(#fadeW)" stroke-width="9.8" stroke-opacity="0.81"/>
<path d="M135.6,716.9 C143,718.1 164.3,721.5 180,724 C195.7,726.5 214.3,729.5 230,732 C245.7,734.5 267,737.9 274.4,739.1" stroke="url(#fadeW)" stroke-width="9.8" stroke-opacity="0.81"/>
<path d="M250,560 C258.3,563.3 285,574 300,580 C315,586 333.3,593.3 340,596" stroke="url(#fadeW)" stroke-width="8.4" stroke-opacity="0.52"/>
<path d="M300,530 C308.3,532.7 336.7,541.7 350,546 C363.3,550.3 375,554.3 380,556" stroke="url(#fadeW)" stroke-width="8.4" stroke-opacity="0.47"/>
<path d="M119,748.5 C125.8,745.4 146.5,736.1 160,730 C173.5,723.9 185.8,718.7 200,712 C214.2,705.3 230,697.3 245,690 C260,682.7 275.8,674.7 290,668 C304.2,661.3 323.3,653 330,650" stroke="url(#fadeW)" stroke-width="9.8" stroke-opacity="0.76"/>
<path d="M198.2,748.7 C205.2,745.9 224.7,738.1 240,732 C255.3,725.9 273.3,719 290,712 C306.7,705 325,696 340,690 C355,684 373.3,678.3 380,676" stroke="url(#fadeW)" stroke-width="9.8" stroke-opacity="0.71"/>
<path d="M118.2,696.7 C125.2,693.9 144.7,686.1 160,680 C175.3,673.9 193.3,666.7 210,660 C226.7,653.3 245,646 260,640 C275,634 293.3,626.7 300,624" stroke="url(#fadeW)" stroke-width="8.4" stroke-opacity="0.62"/>
<path d="M170,632 C178.3,628.7 203.3,619 220,612 C236.7,605 253.3,597 270,590 C286.7,583 311.7,573.3 320,570" stroke="url(#fadeW)" stroke-width="8.4" stroke-opacity="0.57"/>
<path d="M287.4,747.5 C294.5,745.1 314.6,738.2 330,733 C345.4,727.8 365,721.5 380,716 C395,710.5 413.3,702.7 420,700" stroke="url(#fadeW)" stroke-width="9.8" stroke-opacity="0.71"/>
</g></g>
</g>
<g stroke="#1e1b1c" stroke-width="1.6" fill="none">
<rect x="155" y="126.5" width="856" height="607"/>
<line x1="164.3" y1="127" x2="164.3" y2="135.5"/><line x1="164.3" y1="733" x2="164.3" y2="724.5"/>
<line x1="308.8" y1="127" x2="308.8" y2="135.5"/><line x1="308.8" y1="733" x2="308.8" y2="724.5"/>
<line x1="453.3" y1="127" x2="453.3" y2="135.5"/><line x1="453.3" y1="733" x2="453.3" y2="724.5"/>
<line x1="597.8" y1="127" x2="597.8" y2="135.5"/><line x1="597.8" y1="733" x2="597.8" y2="724.5"/>
<line x1="742.3" y1="127" x2="742.3" y2="135.5"/><line x1="742.3" y1="733" x2="742.3" y2="724.5"/>
<line x1="886.8" y1="127" x2="886.8" y2="135.5"/><line x1="886.8" y1="733" x2="886.8" y2="724.5"/>
<line x1="155" y1="733.3" x2="164" y2="733.3"/><line x1="1011" y1="733.3" x2="1002" y2="733.3"/>
<line x1="155" y1="652.3" x2="164" y2="652.3"/><line x1="1011" y1="652.3" x2="1002" y2="652.3"/>
<line x1="155" y1="571.3" x2="164" y2="571.3"/><line x1="1011" y1="571.3" x2="1002" y2="571.3"/>
<line x1="155" y1="490.3" x2="164" y2="490.3"/><line x1="1011" y1="490.3" x2="1002" y2="490.3"/>
<line x1="155" y1="409.3" x2="164" y2="409.3"/><line x1="1011" y1="409.3" x2="1002" y2="409.3"/>
<line x1="155" y1="328.3" x2="164" y2="328.3"/><line x1="1011" y1="328.3" x2="1002" y2="328.3"/>
<line x1="155" y1="247.3" x2="164" y2="247.3"/><line x1="1011" y1="247.3" x2="1002" y2="247.3"/>
<line x1="155" y1="166.3" x2="164" y2="166.3"/><line x1="1011" y1="166.3" x2="1002" y2="166.3"/>
</g>
<text class="s g" x="146" y="745.3" text-anchor="end">0</text>
<text class="s g" x="146" y="664.3" text-anchor="end">200</text>
<text class="s g" x="146" y="583.3" text-anchor="end">400</text>
<text class="s g" x="146" y="502.3" text-anchor="end">600</text>
<text class="s g" x="146" y="421.3" text-anchor="end">800</text>
<text class="s g" x="146" y="340.3" text-anchor="end">1000</text>
<text class="s g" x="146" y="259.3" text-anchor="end">1200</text>
<text class="s g" x="146" y="178.3" text-anchor="end">1400</text>
<text class="s k" x="164.7" y="769" text-anchor="middle">0</text>
<text class="s k" x="309.2" y="769" text-anchor="middle">10</text>
<text class="s k" x="454.2" y="769" text-anchor="middle">20</text>
<text class="s k" x="600.5" y="769" text-anchor="middle">30</text>
<text class="s k" x="745.8" y="769" text-anchor="middle">40</text>
<text class="s k" x="893" y="769" text-anchor="middle">50</text>
<text class="s g" x="568" y="812" text-anchor="middle">B (mT)</text>
<text class="s" transform="translate(64 533.3) rotate(-90)" textLength="237" lengthAdjust="spacingAndGlyphs"><tspan class="k">Detuning </tspan><tspan class="g">(MHz)</tspan></text>
<clipPath id="clipB"><rect x="155.8" y="836.8" width="854.4" height="122.4"/></clipPath>
<g clip-path="url(#clipB)">
<rect x="155.8" y="836.8" width="854.4" height="122.4" filter="url(#nzB)"/>
<g filter="url(#blur1)" fill="none" stroke-linecap="round">
<path d="M410,931 C425,928.2 468.3,920.5 500,914.5 C531.7,908.5 566.7,901.6 600,895 C633.3,888.4 666.7,881.3 700,875 C733.3,868.7 768.3,862.3 800,857 C831.7,851.7 875,845.3 890,843" stroke="#0a78c2" stroke-width="5" stroke-opacity="0.55"/>
<path d="M556,889 C563.3,887.8 576,886.8 600,882 C624,877.2 666.7,865.8 700,860 C733.3,854.2 780.5,849.7 800,847 C819.5,844.3 814.2,844.5 817,844" stroke="#0a78c2" stroke-width="4" stroke-opacity="0.35"/>
<path d="M410,924 C425,921.2 468.3,913.5 500,907.5 C531.7,901.5 566.7,894.6 600,888 C633.3,881.4 666.7,874.3 700,868 C733.3,861.7 768.3,855.3 800,850 C831.7,844.7 875,838.3 890,836" stroke="#f4f7fa" stroke-width="5.5" stroke-opacity="0.95"/>
<path d="M556,882 C563.3,880.8 576,879.8 600,875 C624,870.2 666.7,858.8 700,853 C733.3,847.2 780.5,842.7 800,840 C819.5,837.3 814.2,837.5 817,837" stroke="#e8f0f8" stroke-width="4.5" stroke-opacity="0.8"/>
</g>
<rect x="155" y="836" width="254.5" height="124" filter="url(#nzBL)"/>
<g filter="url(#blur1)" fill="none" stroke-linecap="round">
<path d="M157,952 C169.2,951 203.8,948.3 230,946 C256.2,943.7 292.3,940.3 314,938 C335.7,935.7 344.2,934 360,932 C375.8,930 400.8,927 409,926" stroke="#a8d8e8" stroke-width="4" stroke-opacity="0.85"/>
<path d="M175,870 C182.2,871.7 203.8,877 218,880 C232.2,883 246.3,887 260,888 C273.7,889 293.3,886.3 300,886" stroke="#a8d8e8" stroke-width="4" stroke-opacity="0.6"/>
<path d="M244,891 C251.7,889.8 275.5,886.2 290,884 C304.5,881.8 316,880 331,878 C346,876 371.8,873 380,872" stroke="#a8d8e8" stroke-width="4" stroke-opacity="0.55"/>
</g>
</g>
<g stroke="#1e1b1c" stroke-width="1.6" fill="none">
<rect x="155" y="836" width="856" height="124"/>
<line x1="160" y1="837" x2="160" y2="845"/><line x1="160" y1="959" x2="160" y2="951"/>
<line x1="378.3" y1="837" x2="378.3" y2="845"/><line x1="378.3" y1="959" x2="378.3" y2="951"/>
<line x1="596.7" y1="837" x2="596.7" y2="845"/><line x1="596.7" y1="959" x2="596.7" y2="951"/>
<line x1="815" y1="837" x2="815" y2="845"/><line x1="815" y1="959" x2="815" y2="951"/>
<line x1="155" y1="861" x2="163" y2="861"/><line x1="1011" y1="861" x2="1003" y2="861"/>
<line x1="155" y1="910" x2="163" y2="910"/><line x1="1011" y1="910" x2="1003" y2="910"/>
<line x1="155" y1="959.3" x2="163" y2="959.3"/><line x1="1011" y1="959.3" x2="1003" y2="959.3"/>
</g>
<rect x="154.5" y="782.5" width="255" height="53.5" fill="#b9dfe6" stroke="#1e1b1c" stroke-width="1.5"/>
<line x1="409.5" y1="782.5" x2="409.5" y2="960" stroke="#1e1b1c" stroke-width="1.5"/>
<text class="s g" x="137" y="873" text-anchor="end">800</text>
<text class="s g" x="137" y="922" text-anchor="end">400</text>
<text class="s g" x="151" y="971" text-anchor="end">0</text>
<text class="s k" x="160" y="1000" text-anchor="middle">0</text>
<text class="s k" x="381" y="1000" text-anchor="middle">50</text>
<text class="s k" x="607" y="1000" text-anchor="middle">100</text>
<text class="s k" x="823" y="1000" text-anchor="middle">150</text>
<text class="s g" x="568" y="1033" text-anchor="middle">B (mT)</text>
<text class="s k" x="998" y="945" text-anchor="end">B || c-axis</text>
<text class="s k" x="1029" y="42" style="font-size:37px">c)</text>
<clipPath id="clipP0"><rect x="1069" y="67" width="259" height="204.3"/></clipPath>
<g clip-path="url(#clipP0)">
<rect x="978.5" y="-30.8" width="440" height="400" transform="rotate(-28 1198.5 169.2)" filter="url(#nzP)"/>
<radialGradient id="gP0" cx="1120" cy="255" r="1" gradientUnits="userSpaceOnUse" gradientTransform="translate(1120 255) scale(110 45) translate(-1120 -255)"><stop offset="0" stop-color="#fff" stop-opacity="0.9"/><stop offset="0.5" stop-color="#fff" stop-opacity="0.6"/><stop offset="1" stop-color="#fff" stop-opacity="0"/></radialGradient>
<mask id="mP0" maskUnits="userSpaceOnUse" x="1060" y="62" width="280" height="214.3"><rect x="1060" y="62" width="280" height="214.3" fill="url(#gP0)"/></mask>
<rect x="1069" y="67" width="259" height="204.3" filter="url(#nzP2)" mask="url(#mP0)"/>
<g filter="url(#blur1)" fill="none" stroke-linecap="round"><path d="M1152.1,142.5 C1157.1,138.4 1171.3,127.1 1182.2,117.5 C1193,107.8 1208.6,92.3 1217.2,84.4 C1225.9,76.6 1231.3,72.9 1234.1,70.5" stroke="#0a78c2" stroke-width="3" stroke-opacity="0.42"/><path d="M1150,140 C1155,135.8 1169.2,124.7 1180,115 C1190.8,105.3 1206.3,89.8 1215,82 C1223.7,74.2 1229.2,70.3 1232,68" stroke="#f2f6fa" stroke-width="3" stroke-opacity="0.70"/><path d="M1201.7,152.2 C1208.3,147.2 1228.3,131.4 1241.6,122.3 C1254.9,113.1 1274.8,101.5 1281.5,97.3" stroke="#0a78c2" stroke-width="2.5" stroke-opacity="0.24"/><path d="M1200,150 C1206.7,145 1226.7,129.2 1240,120 C1253.3,110.8 1273.3,99.2 1280,95" stroke="#f2f6fa" stroke-width="2.5" stroke-opacity="0.40"/><path d="M1251.7,202.2 C1258.3,197.2 1278.6,181.4 1291.6,172.2 C1304.6,163.1 1323.2,151.5 1329.5,147.3" stroke="#0a78c2" stroke-width="2.5" stroke-opacity="0.24"/><path d="M1250,200 C1256.7,195 1277,179.2 1290,170 C1303,160.8 1321.7,149.2 1328,145" stroke="#f2f6fa" stroke-width="2.5" stroke-opacity="0.40"/><path d="M1182,264.6 C1187.8,260.1 1205.3,246.3 1217,237.6 C1228.6,229 1246.1,216.8 1251.9,212.7" stroke="#0a78c2" stroke-width="3" stroke-opacity="0.36"/><path d="M1180,262 C1185.8,257.5 1203.3,243.7 1215,235 C1226.7,226.3 1244.2,214.2 1250,210" stroke="#f2f6fa" stroke-width="3" stroke-opacity="0.60"/></g>
<g fill="none" stroke="#54922c" stroke-width="2"><path d="M1070.1,152.1 C1079.8,145.4 1108.8,125.6 1128.5,111.6 C1148.1,97.6 1177.9,75.4 1187.8,68.2"/><path d="M1070.1,155.8 C1080.9,148.7 1112.6,127.8 1134.6,113.2 C1156.6,98.6 1190.9,75.7 1202.2,68.2"/><path d="M1070.1,159.5 C1082.2,152.3 1118.1,131.5 1142.8,116.3 C1167.5,101.1 1205.9,76.2 1218.5,68.2"/><path d="M1070.1,163 C1083.6,155.7 1123.5,135.2 1151,119.4 C1178.4,103.6 1220.9,76.7 1234.9,68.2"/><path d="M1070.1,166 C1085,158.8 1128.6,138.7 1159.2,122.4 C1189.7,106.1 1237.6,77.2 1253.3,68.2"/><path d="M1070.1,168.9 C1086.3,161.8 1133.9,143.3 1167.4,126.5 C1200.8,109.7 1253.5,77.9 1270.7,68.2"/><path d="M1070.1,171.4 C1079.5,169.2 1106.8,165.6 1126.4,158.3 C1146,151 1160.5,142.6 1187.8,127.6 C1215.1,112.5 1273.1,78.1 1290.2,68.2"/><path d="M1070.1,173.6 C1080.5,172.4 1109.5,172.8 1132.6,166.4 C1155.6,160.1 1178.6,152.1 1208.3,135.7 C1238,119.4 1293.6,79.4 1310.6,68.2"/><path d="M1070.1,175.7 C1079.5,176.5 1106.8,182.3 1126.4,180.8 C1146,179.2 1163.9,176.3 1187.8,166.4 C1211.7,156.6 1246.5,137.1 1269.7,121.4 C1292.9,105.7 1317.5,80.5 1327,72.3"/><path d="M1070.1,176.7 C1079.5,177.7 1105.1,183.2 1126.4,182.8 C1147.7,182.5 1174.2,182.8 1198.1,174.6 C1221.9,166.4 1248.2,148.4 1269.7,133.7 C1291.2,119 1317.5,94.5 1327,86.6"/><path d="M1070.1,177.7 C1079.5,178.9 1106.8,183.7 1126.4,184.9 C1146,186.1 1167.4,189.3 1187.8,184.9 C1208.3,180.4 1226,171.9 1249.2,158.3 C1272.4,144.6 1314.1,112.2 1327,103"/><path d="M1070.1,178.7 C1079.5,180.4 1108.5,186.6 1126.4,189 C1144.3,191.4 1157.1,195.4 1177.6,193.1 C1198.1,190.7 1224.3,186.9 1249.2,174.6 C1274.1,162.4 1314.1,128.6 1327,119.4"/><path d="M1070.1,179.8 C1081.2,182.3 1118.7,191.5 1136.6,195.1 C1154.6,198.7 1162.2,201.6 1177.6,201.2 C1192.9,200.9 1203.9,203.6 1228.8,193.1 C1253.7,182.5 1310.6,147 1327,137.8"/><path d="M1070.1,180.8 C1082.9,184.2 1125.6,196 1146.9,201.2 C1168.2,206.5 1181,212.2 1198.1,212.5 C1215.1,212.8 1227.7,212.8 1249.2,203.3 C1270.7,193.7 1314.1,163.2 1327,155.2"/><path d="M1070.1,178.7 C1076.1,179.8 1093.1,181.1 1105.9,184.9 C1118.7,188.6 1129.8,193.7 1146.9,201.2 C1163.9,208.8 1187.8,223.1 1208.3,229.9 C1228.8,236.7 1249.9,239.3 1269.7,242.2 C1289.5,245.1 1317.5,246.5 1327,247.3"/><path d="M1151,270.8 C1160.5,267.1 1188.5,257.5 1208.3,248.3 C1228.1,239.1 1249.9,227 1269.7,215.6 C1289.5,204.1 1317.5,185.7 1327,179.8"/><path d="M1070.1,153.1 C1073.7,155.4 1083.9,161.5 1091.6,166.4 C1099.3,171.4 1112.1,180.1 1116.2,182.8"/><path d="M1070.1,158.3 C1074.4,160.6 1086.3,167.8 1095.7,172.6 C1105.1,177.4 1121.3,184.5 1126.4,186.9"/><path d="M1070.1,162.4 C1075.4,164.9 1090.8,172.9 1101.8,177.7 C1112.9,182.5 1130.8,188.8 1136.6,191"/><path d="M1070.1,166.4 C1076.1,169.2 1093.1,177.9 1105.9,182.8 C1118.7,187.8 1140.1,193.9 1146.9,196.1"/><path d="M1070.1,264.7 C1079.5,264.4 1107.5,263.2 1126.4,262.7 C1145.3,262.1 1174.2,261.8 1183.7,261.6"/><path d="M1070.1,267.8 C1082.9,267.2 1120.4,265.7 1146.9,264.3 C1173.3,262.9 1198.4,260.4 1228.8,259.2 C1259.1,258 1312.4,257.3 1329.1,256.9" stroke-width="5"/></g>
</g>
<text font-family="Liberation Sans" font-size="200" fill="#000" transform="matrix(0.14809 0 0 0.17391 1078.45 108.00)" stroke="#000" stroke-width="4">Λ</text>
<rect x="1069" y="67" width="644.5" height="204.3" fill="none" stroke="#1e1b1c" stroke-width="1.6"/>
<line x1="1328" y1="67" x2="1328" y2="271.3" stroke="#1e1b1c" stroke-width="1.8"/>
<text font-family="Liberation Serif" font-size="200" fill="#000" transform="matrix(0.17000 0 0 0.17680 1346.65 98.70)">|</text><text font-family="Liberation Serif" font-size="200" font-style="italic" fill="#000" transform="matrix(0.16282 0 0 0.15625 1355.02 98.69)">e</text><text font-family="DejaVu Sans" font-size="200" fill="#000" transform="matrix(0.09059 0 0 0.16849 1370.89 102.20)">↑</text><text font-family="DejaVu Math TeX Gyre" font-size="200" fill="#000" transform="matrix(0.12857 0 0 0.19048 1384.79 100.78)">⟩</text>
<text font-family="Liberation Serif" font-size="200" fill="#000" transform="matrix(0.17000 0 0 0.17680 1346.65 145.40)">|</text><text font-family="Liberation Serif" font-size="200" font-style="italic" fill="#000" transform="matrix(0.16282 0 0 0.15625 1355.02 145.39)">e</text><text font-family="DejaVu Sans" font-size="200" fill="#000" transform="matrix(0.09059 0 0 0.16849 1370.89 149.60)">↓</text><text font-family="DejaVu Math TeX Gyre" font-size="200" fill="#000" transform="matrix(0.12857 0 0 0.19048 1384.79 147.48)">⟩</text>
<text font-family="Liberation Serif" font-size="200" fill="#000" transform="matrix(0.17000 0 0 0.17680 1346.65 219.40)">|</text><text font-family="Liberation Serif" font-size="200" font-style="italic" fill="#000" transform="matrix(0.16170 0 0 0.15441 1354.80 219.31)">g</text><text font-family="DejaVu Sans" font-size="200" fill="#000" transform="matrix(0.09059 0 0 0.16849 1370.89 222.90)">↑</text><text font-family="DejaVu Math TeX Gyre" font-size="200" fill="#000" transform="matrix(0.12857 0 0 0.19048 1384.79 221.48)">⟩</text>
<text font-family="Liberation Serif" font-size="200" fill="#000" transform="matrix(0.17000 0 0 0.17680 1346.65 255.40)">|</text><text font-family="Liberation Serif" font-size="200" font-style="italic" fill="#000" transform="matrix(0.16170 0 0 0.15441 1354.80 255.31)">g</text><text font-family="DejaVu Sans" font-size="200" fill="#000" transform="matrix(0.09059 0 0 0.16849 1370.89 259.60)">↓</text><text font-family="DejaVu Math TeX Gyre" font-size="200" fill="#000" transform="matrix(0.12857 0 0 0.19048 1384.79 257.48)">⟩</text>
<g stroke="#555" stroke-width="1"><line x1="1638.4" y1="91.2" x2="1638.4" y2="136.4"/><line x1="1636" y1="91.2" x2="1641" y2="91.2"/><line x1="1636" y1="136.4" x2="1641" y2="136.4"/></g><g stroke="#555" stroke-width="1"><line x1="1638.4" y1="211.3" x2="1638.4" y2="246.6"/><line x1="1636" y1="211.3" x2="1641" y2="211.3"/><line x1="1636" y1="246.6" x2="1641" y2="246.6"/></g><text font-family="DejaVu Math TeX Gyre" font-size="200" fill="#000" transform="matrix(0.18125 0 0 0.15616 1639.90 123.80)">Δ</text><text font-family="Liberation Serif" font-size="200" font-style="italic" fill="#000" transform="matrix(0.15128 0 0 0.12812 1670.19 131.34)">e</text><text font-family="DejaVu Math TeX Gyre" font-size="200" fill="#000" transform="matrix(0.17734 0 0 0.14932 1639.76 237.00)">Δ</text><text font-family="Liberation Serif" font-size="200" font-style="italic" fill="#000" transform="matrix(0.11383 0 0 0.10368 1667.00 241.75)">g</text>
<g stroke="#111" fill="none"><line x1="1467" y1="130" x2="1507" y2="130" stroke-width="1.9"/><line x1="1467" y1="137" x2="1507" y2="137" stroke-width="3.6"/><line x1="1467" y1="144" x2="1507" y2="144" stroke-width="1.9"/><line x1="1521" y1="83.6" x2="1561" y2="83.6" stroke-width="1.9"/><line x1="1521" y1="90.6" x2="1561" y2="90.6" stroke-width="3.6"/><line x1="1521" y1="97.6" x2="1561" y2="97.6" stroke-width="1.9"/><line x1="1521" y1="203.6" x2="1561" y2="203.6" stroke-width="1.9"/><line x1="1521" y1="210.6" x2="1561" y2="210.6" stroke-width="3.6"/><line x1="1521" y1="217.6" x2="1561" y2="217.6" stroke-width="1.9"/><line x1="1467" y1="240.6" x2="1507" y2="240.6" stroke-width="1.9"/><line x1="1467" y1="247.6" x2="1507" y2="247.6" stroke-width="3.6"/><line x1="1467" y1="254.6" x2="1507" y2="254.6" stroke-width="1.9"/></g><line x1="1474.5" y1="151.4" x2="1474.5" y2="233.2" stroke="#4664b0" stroke-width="1.6"/><polygon points="1474.5,137 1469.5,155 1479.5,155" fill="#4664b0"/><polygon points="1474.5,247.6 1469.5,229.6 1479.5,229.6" fill="#4664b0"/><line x1="1503" y1="151.7" x2="1523.6" y2="196.9" stroke="#e6393e" stroke-width="1.6"/><polygon points="1497,138.6 1499.9,157.1 1509,152.9" fill="#e6393e"/><polygon points="1529.6,210 1517.6,195.7 1526.7,191.5" fill="#e6393e"/><line x1="1530.2" y1="97.5" x2="1498.2" y2="237.5" stroke="#a8a8a8" stroke-width="0.9"/><polygon points="1531.4,92 1527.4,98.3 1532.3,99.4" fill="#a8a8a8"/><polygon points="1497,243 1496.1,235.6 1501,236.7" fill="#a8a8a8"/><line x1="1549.6" y1="97.6" x2="1549.6" y2="204.4" stroke="#a8a8a8" stroke-width="0.9"/><polygon points="1549.6,92 1547.1,99 1552.1,99" fill="#a8a8a8"/><polygon points="1549.6,210 1547.1,203 1552.1,203" fill="#a8a8a8"/>
<text class="s k" x="1029" y="281" style="font-size:37px">d)</text>
<clipPath id="clipP1"><rect x="1069" y="300" width="259" height="204.5"/></clipPath>
<g clip-path="url(#clipP1)">
<rect x="978.5" y="202.2" width="440" height="400" transform="rotate(-28 1198.5 402.2)" filter="url(#nzP)"/>
<radialGradient id="gP1" cx="1120" cy="470" r="1" gradientUnits="userSpaceOnUse" gradientTransform="translate(1120 470) scale(110 60) translate(-1120 -470)"><stop offset="0" stop-color="#fff" stop-opacity="0.9"/><stop offset="0.5" stop-color="#fff" stop-opacity="0.6"/><stop offset="1" stop-color="#fff" stop-opacity="0"/></radialGradient>
<mask id="mP1" maskUnits="userSpaceOnUse" x="1060" y="295" width="280" height="214.5"><rect x="1060" y="295" width="280" height="214.5" fill="url(#gP1)"/></mask>
<rect x="1069" y="300" width="259" height="204.5" filter="url(#nzP2)" mask="url(#mP1)"/>
<g filter="url(#blur1)" fill="none" stroke-linecap="round"><path d="M1181.7,472.8 C1190.1,467.8 1216.8,452.8 1231.8,442.7 C1246.9,432.7 1265.3,417.7 1272,412.6" stroke="#0a78c2" stroke-width="3" stroke-opacity="0.42"/><path d="M1180,470 C1188.3,465 1215,450 1230,440 C1245,430 1263.3,415 1270,410" stroke="#f2f6fa" stroke-width="3" stroke-opacity="0.70"/><path d="M1141.7,442.2 C1148.3,437.2 1166.7,423.8 1181.7,412.2 C1196.7,400.5 1223.4,378.8 1231.7,372.1" stroke="#0a78c2" stroke-width="2.5" stroke-opacity="0.24"/><path d="M1140,440 C1146.7,435 1165,421.7 1180,410 C1195,398.3 1221.7,376.7 1230,370" stroke="#f2f6fa" stroke-width="2.5" stroke-opacity="0.40"/><path d="M1201.1,502.5 C1211,498.4 1241,485.1 1261,477.6 C1280.9,470.1 1310.9,460.9 1320.9,457.6" stroke="#0a78c2" stroke-width="2.5" stroke-opacity="0.30"/><path d="M1200,500 C1210,495.8 1240,482.5 1260,475 C1280,467.5 1310,458.3 1320,455" stroke="#f2f6fa" stroke-width="2.5" stroke-opacity="0.50"/><path d="M1250.9,482.6 C1259.3,479.6 1287.9,469.3 1300.9,464.6 C1313.9,459.9 1324.3,456.3 1328.9,454.6" stroke="#0a78c2" stroke-width="2.5" stroke-opacity="0.30"/><path d="M1250,480 C1258.3,477 1287,466.7 1300,462 C1313,457.3 1323.3,453.7 1328,452" stroke="#f2f6fa" stroke-width="2.5" stroke-opacity="0.50"/></g>
<g fill="none" stroke="#161616" stroke-width="1.9"><line x1="1069" y1="396.6" x2="1178.6" y2="298"/><line x1="1069" y1="411.9" x2="1195.6" y2="298"/><line x1="1069" y1="427.2" x2="1212.6" y2="298"/><line x1="1069" y1="442.5" x2="1229.6" y2="298"/><line x1="1069" y1="457.8" x2="1246.6" y2="298"/><line x1="1069" y1="473.1" x2="1263.6" y2="298"/><line x1="1069" y1="488.4" x2="1280.6" y2="298"/><line x1="1069" y1="503.6" x2="1297.4" y2="298"/><line x1="1084" y1="506" x2="1315.1" y2="298"/><line x1="1100" y1="506" x2="1331.1" y2="298"/><path d="M1069,396.6 C1077.8,403.2 1105.7,424.6 1122,436.3 C1138.3,448 1156.5,461.9 1167,467 C1177.5,472.1 1170.8,473.6 1185,467 C1199.2,460.4 1228.3,444.7 1252.5,427.3 C1276.7,409.9 1317.1,373.4 1330,362.6"/><path d="M1069,411.9 C1075.1,418 1094.7,438 1105.5,448.8 C1116.3,459.5 1126.2,472 1134,476.6 C1141.8,481.2 1135,485.2 1152,476.6 C1169,468 1206.3,446.3 1236,424.9 C1265.7,403.5 1314.3,361 1330,348.2"/><path d="M1069,427.2 C1072.4,432.8 1084,451 1089.5,460.6 C1095,470.2 1096.9,480.9 1102,485 C1107.1,489.1 1100.3,495.3 1120,485 C1139.7,474.7 1185,447.8 1220,423 C1255,398.2 1311.7,350.5 1330,336"/><path d="M1069,442.5 C1070.8,447.5 1077.3,464.2 1079.5,472.8 C1081.7,481.3 1078.6,490.5 1082,494 C1085.4,497.5 1078.7,506.3 1100,494 C1121.3,481.7 1171.7,449 1210,420.3 C1248.3,391.6 1310,338.1 1330,321.6"/><path d="M1095,508 C1100.8,501.7 1112.5,484.7 1130,470 C1147.5,455.3 1166.7,447.2 1200,420 C1233.3,392.8 1308.3,325.8 1330,307"/><line x1="1069" y1="457.8" x2="1123.8" y2="506"/><line x1="1069" y1="473.1" x2="1106.4" y2="506"/><line x1="1069" y1="488.4" x2="1089" y2="506"/><path d="M1069,488.5 C1082.5,488.7 1106.5,489.2 1150,489.5 C1193.5,489.8 1300,489.9 1330,490" stroke-width="2.6"/><path d="M1069,490 C1070.8,491.3 1076.2,496.3 1080,498 C1083.8,499.7 1087,500.7 1092,500 C1097,499.3 1100.3,495.5 1110,494 C1119.7,492.5 1143.3,491.5 1150,491"/><path d="M1160,506 C1166.7,504.3 1183.3,498.3 1200,496 C1216.7,493.7 1238.3,492.8 1260,492 C1281.7,491.2 1318.3,491.2 1330,491"/><path d="M1120,506 C1128.3,504.5 1148.3,499.2 1170,497 C1191.7,494.8 1223.3,493.9 1250,493 C1276.7,492.1 1316.7,491.8 1330,491.5"/></g>
</g>
<text font-family="Liberation Sans" font-size="200" fill="#000" transform="matrix(0.14504 0 0 0.16957 1077.85 337.00)" stroke="#000" stroke-width="4">V</text>
<rect x="1069" y="300" width="644.5" height="204.5" fill="none" stroke="#1e1b1c" stroke-width="1.6"/>
<line x1="1328" y1="300" x2="1328" y2="504.5" stroke="#1e1b1c" stroke-width="1.8"/>
<text font-family="Liberation Serif" font-size="200" fill="#000" transform="matrix(0.17000 0 0 0.17680 1346.65 331.70)">|</text><text font-family="Liberation Serif" font-size="200" font-style="italic" fill="#000" transform="matrix(0.16282 0 0 0.15625 1355.02 331.69)">e</text><text font-family="DejaVu Sans" font-size="200" fill="#000" transform="matrix(0.09059 0 0 0.16849 1370.89 335.20)">↑</text><text font-family="DejaVu Math TeX Gyre" font-size="200" fill="#000" transform="matrix(0.12857 0 0 0.19048 1384.79 333.78)">⟩</text>
<text font-family="Liberation Serif" font-size="200" fill="#000" transform="matrix(0.17000 0 0 0.17680 1346.65 378.40)">|</text><text font-family="Liberation Serif" font-size="200" font-style="italic" fill="#000" transform="matrix(0.16282 0 0 0.15625 1355.02 378.39)">e</text><text font-family="DejaVu Sans" font-size="200" fill="#000" transform="matrix(0.09059 0 0 0.16849 1370.89 382.60)">↓</text><text font-family="DejaVu Math TeX Gyre" font-size="200" fill="#000" transform="matrix(0.12857 0 0 0.19048 1384.79 380.48)">⟩</text>
<text font-family="Liberation Serif" font-size="200" fill="#000" transform="matrix(0.17000 0 0 0.17680 1346.65 452.40)">|</text><text font-family="Liberation Serif" font-size="200" font-style="italic" fill="#000" transform="matrix(0.16170 0 0 0.15441 1354.80 452.31)">g</text><text font-family="DejaVu Sans" font-size="200" fill="#000" transform="matrix(0.09059 0 0 0.16849 1370.89 455.90)">↑</text><text font-family="DejaVu Math TeX Gyre" font-size="200" fill="#000" transform="matrix(0.12857 0 0 0.19048 1384.79 454.48)">⟩</text>
<text font-family="Liberation Serif" font-size="200" fill="#000" transform="matrix(0.17000 0 0 0.17680 1346.65 488.40)">|</text><text font-family="Liberation Serif" font-size="200" font-style="italic" fill="#000" transform="matrix(0.16170 0 0 0.15441 1354.80 488.31)">g</text><text font-family="DejaVu Sans" font-size="200" fill="#000" transform="matrix(0.09059 0 0 0.16849 1370.89 492.60)">↓</text><text font-family="DejaVu Math TeX Gyre" font-size="200" fill="#000" transform="matrix(0.12857 0 0 0.19048 1384.79 490.48)">⟩</text>
<g stroke="#555" stroke-width="1"><line x1="1638.4" y1="324.2" x2="1638.4" y2="369.4"/><line x1="1636" y1="324.2" x2="1641" y2="324.2"/><line x1="1636" y1="369.4" x2="1641" y2="369.4"/></g><g stroke="#555" stroke-width="1"><line x1="1638.4" y1="444.3" x2="1638.4" y2="479.6"/><line x1="1636" y1="444.3" x2="1641" y2="444.3"/><line x1="1636" y1="479.6" x2="1641" y2="479.6"/></g><text font-family="DejaVu Math TeX Gyre" font-size="200" fill="#000" transform="matrix(0.18125 0 0 0.15616 1639.90 356.80)">Δ</text><text font-family="Liberation Serif" font-size="200" font-style="italic" fill="#000" transform="matrix(0.15128 0 0 0.12813 1670.19 364.34)">e</text><text font-family="DejaVu Math TeX Gyre" font-size="200" fill="#000" transform="matrix(0.17734 0 0 0.14932 1639.76 470.00)">Δ</text><text font-family="Liberation Serif" font-size="200" font-style="italic" fill="#000" transform="matrix(0.11383 0 0 0.10368 1667.00 474.75)">g</text>
<g stroke="#111" fill="none"><line x1="1403" y1="363" x2="1443" y2="363" stroke-width="1.9"/><line x1="1403" y1="370" x2="1443" y2="370" stroke-width="3.6"/><line x1="1403" y1="377" x2="1443" y2="377" stroke-width="1.9"/><line x1="1457" y1="316.6" x2="1497" y2="316.6" stroke-width="1.9"/><line x1="1457" y1="323.6" x2="1497" y2="323.6" stroke-width="3.6"/><line x1="1457" y1="330.6" x2="1497" y2="330.6" stroke-width="1.9"/><line x1="1457" y1="436.6" x2="1497" y2="436.6" stroke-width="1.9"/><line x1="1457" y1="443.6" x2="1497" y2="443.6" stroke-width="3.6"/><line x1="1457" y1="450.6" x2="1497" y2="450.6" stroke-width="1.9"/><line x1="1403" y1="473.6" x2="1443" y2="473.6" stroke-width="1.9"/><line x1="1403" y1="480.6" x2="1443" y2="480.6" stroke-width="3.6"/><line x1="1403" y1="487.6" x2="1443" y2="487.6" stroke-width="1.9"/><line x1="1533.6" y1="363" x2="1573.6" y2="363" stroke-width="1.9"/><line x1="1533.6" y1="370" x2="1573.6" y2="370" stroke-width="3.6"/><line x1="1533.6" y1="377" x2="1573.6" y2="377" stroke-width="1.9"/><line x1="1587.6" y1="316.6" x2="1627.6" y2="316.6" stroke-width="1.9"/><line x1="1587.6" y1="323.6" x2="1627.6" y2="323.6" stroke-width="3.6"/><line x1="1587.6" y1="330.6" x2="1627.6" y2="330.6" stroke-width="1.9"/><line x1="1587.6" y1="436.6" x2="1627.6" y2="436.6" stroke-width="1.9"/><line x1="1587.6" y1="443.6" x2="1627.6" y2="443.6" stroke-width="3.6"/><line x1="1587.6" y1="450.6" x2="1627.6" y2="450.6" stroke-width="1.9"/><line x1="1533.6" y1="473.6" x2="1573.6" y2="473.6" stroke-width="1.9"/><line x1="1533.6" y1="480.6" x2="1573.6" y2="480.6" stroke-width="3.6"/><line x1="1533.6" y1="487.6" x2="1573.6" y2="487.6" stroke-width="1.9"/></g><line x1="1410" y1="393.4" x2="1410" y2="464.6" stroke="#4664b0" stroke-width="1.6"/><polygon points="1410,379 1405,397 1415,397" fill="#4664b0"/><polygon points="1410,479 1405,461 1415,461" fill="#4664b0"/><line x1="1434.9" y1="464" x2="1464.7" y2="339" stroke="#e6393e" stroke-width="1.6"/><polygon points="1431.6,478 1440.6,461.6 1430.9,459.3" fill="#e6393e"/><polygon points="1468,325 1468.7,343.7 1459,341.4" fill="#e6393e"/><line x1="1435.1" y1="368.8" x2="1462.9" y2="437.8" stroke="#a8a8a8" stroke-width="0.9"/><polygon points="1433,363.6 1433.3,371 1437.9,369.2" fill="#a8a8a8"/><polygon points="1465,443 1460.1,437.4 1464.7,435.6" fill="#a8a8a8"/><line x1="1485.6" y1="337.6" x2="1485.6" y2="437.4" stroke="#a8a8a8" stroke-width="0.9"/><polygon points="1485.6,332 1483.1,339 1488.1,339" fill="#a8a8a8"/><polygon points="1485.6,443 1483.1,436 1488.1,436" fill="#a8a8a8"/><line x1="1539.7" y1="378" x2="1544.3" y2="464.6" stroke="#4664b0" stroke-width="1.6"/><polygon points="1539,363.6 1534.9,381.8 1544.9,381.3" fill="#4664b0"/><polygon points="1545,479 1539.1,461.3 1549.1,460.8" fill="#4664b0"/><line x1="1567.5" y1="385.4" x2="1562.5" y2="464.6" stroke="#e6393e" stroke-width="1.6"/><polygon points="1568.4,371 1562.3,388.7 1572.3,389.3" fill="#e6393e"/><polygon points="1561.6,479 1557.7,460.7 1567.7,461.3" fill="#e6393e"/><line x1="1593.3" y1="329.6" x2="1599.7" y2="437.4" stroke="#a8a8a8" stroke-width="0.9"/><polygon points="1593,324 1590.9,331.1 1595.9,330.8" fill="#a8a8a8"/><polygon points="1600,443 1597.1,436.2 1602.1,435.9" fill="#a8a8a8"/><line x1="1622.5" y1="336.6" x2="1612.9" y2="437.4" stroke="#a8a8a8" stroke-width="0.9"/><polygon points="1623,331 1619.9,337.7 1624.8,338.2" fill="#a8a8a8"/><polygon points="1612.4,443 1610.6,435.8 1615.5,436.3" fill="#a8a8a8"/>
<text class="s k" x="1029" y="518" style="font-size:37px">e)</text>
<clipPath id="clipP2"><rect x="1069" y="527" width="259" height="201.5"/></clipPath>
<g clip-path="url(#clipP2)">
<rect x="978.5" y="427.8" width="440" height="400" transform="rotate(-28 1198.5 627.8)" filter="url(#nzP)"/>
<radialGradient id="gP2" cx="1110" cy="660" r="1" gradientUnits="userSpaceOnUse" gradientTransform="translate(1110 660) scale(110 90) translate(-1110 -660)"><stop offset="0" stop-color="#fff" stop-opacity="0.9"/><stop offset="0.5" stop-color="#fff" stop-opacity="0.6"/><stop offset="1" stop-color="#fff" stop-opacity="0"/></radialGradient>
<mask id="mP2" maskUnits="userSpaceOnUse" x="1060" y="522" width="280" height="211.5"><rect x="1060" y="522" width="280" height="211.5" fill="url(#gP2)"/></mask>
<rect x="1069" y="527" width="259" height="201.5" filter="url(#nzP2)" mask="url(#mP2)"/>
<g filter="url(#blur1)" fill="none" stroke-linecap="round"><path d="M1121.2,602.5 C1126.3,599.9 1141.3,593.2 1151.4,587.4 C1161.4,581.5 1171.5,574 1181.5,567.3 C1191.5,560.6 1203.2,552.8 1211.5,547.3 C1219.8,541.8 1228.2,536.5 1231.5,534.3" stroke="#0a78c2" stroke-width="2.5" stroke-opacity="0.30"/><path d="M1120,600 C1125,597.5 1140,590.8 1150,585 C1160,579.2 1170,571.7 1180,565 C1190,558.3 1201.7,550.5 1210,545 C1218.3,539.5 1226.7,534.2 1230,532" stroke="#f2f6fa" stroke-width="2.5" stroke-opacity="0.50"/><path d="M1161.5,642.3 C1166.5,639 1179.8,629.8 1191.5,622.3 C1203.1,614.8 1218.1,605.7 1231.5,597.3 C1244.8,589 1264.8,576.5 1271.5,572.3" stroke="#0a78c2" stroke-width="2.5" stroke-opacity="0.27"/><path d="M1160,640 C1165,636.7 1178.3,627.5 1190,620 C1201.7,612.5 1216.7,603.3 1230,595 C1243.3,586.7 1263.3,574.2 1270,570" stroke="#f2f6fa" stroke-width="2.5" stroke-opacity="0.45"/><path d="M1201.2,662.5 C1207.9,659.1 1227.9,649.4 1241.3,642.4 C1254.6,635.4 1267.9,627.1 1281.2,620.5 C1294.5,613.8 1314.5,605.5 1321.1,602.5" stroke="#0a78c2" stroke-width="2.5" stroke-opacity="0.27"/><path d="M1200,660 C1206.7,656.7 1226.7,647 1240,640 C1253.3,633 1266.7,624.7 1280,618 C1293.3,611.3 1313.3,603 1320,600" stroke="#f2f6fa" stroke-width="2.5" stroke-opacity="0.45"/><path d="M1241.2,562.5 C1246.2,560 1261.1,551.7 1271.1,547.5 C1281,543.4 1295.9,539.3 1300.9,537.6" stroke="#0a78c2" stroke-width="2.5" stroke-opacity="0.24"/><path d="M1240,560 C1245,557.5 1260,549.2 1270,545 C1280,540.8 1295,536.7 1300,535" stroke="#f2f6fa" stroke-width="2.5" stroke-opacity="0.40"/><path d="M1152,612.6 C1158.7,607.6 1178.7,593.4 1192.1,582.6 C1205.4,571.7 1222.1,555.9 1232.1,547.5 C1242.1,539.2 1248.7,535.1 1252,532.6" stroke="#0a78c2" stroke-width="3" stroke-opacity="0.36"/><path d="M1150,610 C1156.7,605 1176.7,590.8 1190,580 C1203.3,569.2 1220,553.3 1230,545 C1240,536.7 1246.7,532.5 1250,530" stroke="#f2f6fa" stroke-width="3" stroke-opacity="0.60"/><path d="M1171.5,562.3 C1176.5,559 1191.3,547.4 1201.2,542.5 C1211.1,537.5 1225.9,534.3 1230.9,532.6" stroke="#0a78c2" stroke-width="2.5" stroke-opacity="0.30"/><path d="M1170,560 C1175,556.7 1190,545 1200,540 C1210,535 1225,531.7 1230,530" stroke="#f2f6fa" stroke-width="2.5" stroke-opacity="0.50"/><path d="M1101.7,622.2 C1108.3,617.2 1128.3,601.4 1141.6,592.3 C1154.9,583.1 1174.8,571.5 1181.5,567.3" stroke="#0a78c2" stroke-width="2.5" stroke-opacity="0.30"/><path d="M1100,620 C1106.7,615 1126.7,599.2 1140,590 C1153.3,580.8 1173.3,569.2 1180,565" stroke="#f2f6fa" stroke-width="2.5" stroke-opacity="0.50"/><path d="M1221,722.6 C1229.3,719.2 1252.8,707.6 1270.7,702.6 C1288.6,697.7 1318.8,694.4 1328.5,692.7" stroke="#0a78c2" stroke-width="2.5" stroke-opacity="0.30"/><path d="M1220,720 C1228.3,716.7 1252,705 1270,700 C1288,695 1318.3,691.7 1328,690" stroke="#f2f6fa" stroke-width="2.5" stroke-opacity="0.50"/><path d="M1251.2,662.5 C1257.9,659.1 1278.2,648.3 1291.1,642.5 C1304.1,636.7 1322.7,630 1329,627.6" stroke="#0a78c2" stroke-width="2.5" stroke-opacity="0.24"/><path d="M1250,660 C1256.7,656.7 1277,645.8 1290,640 C1303,634.2 1321.7,627.5 1328,625" stroke="#f2f6fa" stroke-width="2.5" stroke-opacity="0.40"/></g>
<g fill="none" stroke="#1a3232" stroke-width="1.8"><path d="M1086.1,528 C1089.3,532.7 1098.6,547.1 1105.2,556.2 C1111.7,565.2 1118.6,573.9 1125.3,582.3 C1132,590.6 1138.7,599 1145.4,606.4 C1152,613.7 1158.1,620.3 1165.4,626.5 C1172.8,632.7 1180.8,640.9 1189.5,643.5 C1198.3,646.2 1208.3,645 1217.7,642.5 C1227,640 1236.1,634.5 1245.8,628.5 C1255.5,622.4 1265.9,614.1 1275.9,606.4 C1286,598.7 1297.4,589 1306.1,582.3 C1314.8,575.6 1324.5,568.9 1328.2,566.2"/><path d="M1072,602.4 C1077.6,605 1093,612.1 1105.2,618.4 C1117.4,624.8 1133.6,633.5 1145.4,640.5 C1157.1,647.6 1164.8,654.6 1175.5,660.6 C1186.2,666.6 1199.6,674.3 1209.6,676.7 C1219.7,679 1226.4,677 1235.8,674.7 C1245.1,672.3 1255.8,667.3 1265.9,662.6 C1275.9,657.9 1285.6,652.4 1296,646.5 C1306.4,640.7 1322.8,630.6 1328.2,627.5"/><path d="M1072,639.5 C1074.9,641.5 1081.9,650.1 1089.1,651.6 C1096.3,653.1 1105.8,650.6 1115.2,648.6 C1124.6,646.5 1133.6,643.9 1145.4,639.5 C1157.1,635.2 1172.1,628.6 1185.5,622.4 C1198.9,616.2 1212.3,610.1 1225.7,602.4 C1239.1,594.7 1254.2,584.3 1265.9,576.2 C1277.6,568.2 1287.6,562.3 1296,554.1 C1304.4,545.9 1312.8,531.5 1316.1,527"/><path d="M1072,646.5 C1075.9,649.9 1086.3,658.9 1095.1,666.6 C1104,674.3 1115.6,686.1 1125.3,692.8 C1135,699.4 1143.3,705.5 1153.4,706.8 C1163.4,708.2 1173.5,705.8 1185.5,700.8 C1197.6,695.8 1212.3,686.4 1225.7,676.7 C1239.1,667 1254.2,653.6 1265.9,642.5 C1277.6,631.5 1285.6,621.4 1296,610.4 C1306.4,599.3 1322.8,581.9 1328.2,576.2"/><path d="M1072,678.7 C1074.9,681.4 1081.9,688.9 1089.1,694.8 C1096.3,700.6 1106.5,711.5 1115.2,713.8 C1123.9,716.2 1133,712 1141.3,708.8 C1149.7,705.6 1154.7,702.5 1165.4,694.8 C1176.2,687.1 1192.2,674 1205.6,662.6 C1219,651.2 1232.4,638.8 1245.8,626.5 C1259.2,614.1 1272.2,601.3 1286,588.3 C1299.7,575.2 1321.1,554.8 1328.2,548.1"/><path d="M1072,686.7 C1075.9,690.1 1088.9,702.6 1095.1,706.8 C1101.3,711 1100.8,714.8 1109.2,711.8 C1117.6,708.8 1132.6,698.3 1145.4,688.7 C1158.1,679.2 1172.1,667 1185.5,654.6 C1198.9,642.2 1212.3,628.1 1225.7,614.4 C1239.1,600.7 1252.5,586.3 1265.9,572.2 C1279.3,558.2 1298.9,537.6 1306.1,530 C1313.3,522.5 1308.6,527.5 1309.1,527"/><path d="M1072,711.8 C1074.2,713.7 1079.6,723.1 1085.1,722.9 C1090.6,722.7 1095.1,718.9 1105.2,710.8 C1115.2,702.8 1132,687.4 1145.4,674.7 C1158.7,661.9 1172.1,647.9 1185.5,634.5 C1198.9,621.1 1212.3,606.7 1225.7,594.3 C1239.1,581.9 1255.8,571.4 1265.9,560.2 C1275.9,549 1282.6,532.5 1286,527"/><path d="M1072,712.8 C1074.5,714.5 1079.9,724.6 1087.1,722.9 C1094.3,721.2 1103.8,712.8 1115.2,702.8 C1126.6,692.8 1140.3,676.7 1155.4,662.6 C1170.5,648.6 1190.6,631.8 1205.6,618.4 C1220.7,605 1232.4,594 1245.8,582.3 C1259.2,570.5 1274.6,557.3 1286,548.1 C1297.4,538.9 1309.4,530.5 1314.1,527"/><path d="M1095.1,724.9 C1100.2,720.5 1113.5,709.2 1125.3,698.8 C1137,688.4 1152,674.7 1165.4,662.6 C1178.8,650.6 1192.2,637.8 1205.6,626.5 C1219,615.1 1232.4,604.7 1245.8,594.3 C1259.2,583.9 1272.2,574.6 1286,564.2 C1299.7,553.8 1321.1,537.4 1328.2,532"/></g>
</g>
<text font-family="Liberation Sans" font-size="200" fill="#000" transform="matrix(0.15344 0 0 0.17681 1078.05 570.00)" stroke="#000" stroke-width="4">Λ</text><text font-family="Liberation Sans" font-size="200" fill="#000" transform="matrix(0.18310 0 0 0.18286 1099.45 570.23)">*</text><text font-family="Liberation Sans" font-size="200" fill="#000" transform="matrix(0.22727 0 0 0.17687 1113.80 570.65)">/</text><text font-family="Liberation Sans" font-size="200" fill="#000" transform="matrix(0.15115 0 0 0.17681 1133.15 570.00)" stroke="#000" stroke-width="4">V</text><text font-family="Liberation Sans" font-size="200" fill="#000" transform="matrix(0.17606 0 0 0.18571 1153.47 570.63)">*</text>
<rect x="1069" y="527" width="644.5" height="201.5" fill="none" stroke="#1e1b1c" stroke-width="1.6"/>
<line x1="1328" y1="527" x2="1328" y2="728.5" stroke="#1e1b1c" stroke-width="1.8"/>
<text font-family="Liberation Serif" font-size="200" fill="#000" transform="matrix(0.17000 0 0 0.17680 1346.65 558.70)">|</text><text font-family="Liberation Serif" font-size="200" font-style="italic" fill="#000" transform="matrix(0.16282 0 0 0.15625 1355.02 558.69)">e</text><text font-family="DejaVu Sans" font-size="200" fill="#000" transform="matrix(0.09059 0 0 0.16849 1370.89 562.20)">↑</text><text font-family="DejaVu Math TeX Gyre" font-size="200" fill="#000" transform="matrix(0.12857 0 0 0.19048 1384.79 560.78)">⟩</text>
<text font-family="Liberation Serif" font-size="200" fill="#000" transform="matrix(0.17000 0 0 0.17680 1346.65 605.40)">|</text><text font-family="Liberation Serif" font-size="200" font-style="italic" fill="#000" transform="matrix(0.16282 0 0 0.15625 1355.02 605.39)">e</text><text font-family="DejaVu Sans" font-size="200" fill="#000" transform="matrix(0.09059 0 0 0.16849 1370.89 609.60)">↓</text><text font-family="DejaVu Math TeX Gyre" font-size="200" fill="#000" transform="matrix(0.12857 0 0 0.19048 1384.79 607.48)">⟩</text>
<text font-family="Liberation Serif" font-size="200" fill="#000" transform="matrix(0.17000 0 0 0.17680 1346.65 679.40)">|</text><text font-family="Liberation Serif" font-size="200" font-style="italic" fill="#000" transform="matrix(0.16170 0 0 0.15441 1354.80 679.31)">g</text><text font-family="DejaVu Sans" font-size="200" fill="#000" transform="matrix(0.09059 0 0 0.16849 1370.89 682.90)">↑</text><text font-family="DejaVu Math TeX Gyre" font-size="200" fill="#000" transform="matrix(0.12857 0 0 0.19048 1384.79 681.48)">⟩</text>
<text font-family="Liberation Serif" font-size="200" fill="#000" transform="matrix(0.17000 0 0 0.17680 1346.65 715.40)">|</text><text font-family="Liberation Serif" font-size="200" font-style="italic" fill="#000" transform="matrix(0.16170 0 0 0.15441 1354.80 715.31)">g</text><text font-family="DejaVu Sans" font-size="200" fill="#000" transform="matrix(0.09059 0 0 0.16849 1370.89 719.60)">↓</text><text font-family="DejaVu Math TeX Gyre" font-size="200" fill="#000" transform="matrix(0.12857 0 0 0.19048 1384.79 717.48)">⟩</text>
<g stroke="#555" stroke-width="1"><line x1="1638.4" y1="551.2" x2="1638.4" y2="596.4"/><line x1="1636" y1="551.2" x2="1641" y2="551.2"/><line x1="1636" y1="596.4" x2="1641" y2="596.4"/></g><g stroke="#555" stroke-width="1"><line x1="1638.4" y1="671.3" x2="1638.4" y2="706.6"/><line x1="1636" y1="671.3" x2="1641" y2="671.3"/><line x1="1636" y1="706.6" x2="1641" y2="706.6"/></g><text font-family="DejaVu Math TeX Gyre" font-size="200" fill="#000" transform="matrix(0.18125 0 0 0.15616 1639.90 583.80)">Δ</text><text font-family="Liberation Serif" font-size="200" font-style="italic" fill="#000" transform="matrix(0.15128 0 0 0.12813 1670.19 591.34)">e</text><text font-family="DejaVu Math TeX Gyre" font-size="200" fill="#000" transform="matrix(0.17734 0 0 0.14932 1639.76 697.00)">Δ</text><text font-family="Liberation Serif" font-size="200" font-style="italic" fill="#000" transform="matrix(0.11383 0 0 0.10368 1667.00 701.75)">g</text>
<g stroke="#111" fill="none"><line x1="1403" y1="590" x2="1443" y2="590" stroke-width="1.9"/><line x1="1403" y1="597" x2="1443" y2="597" stroke-width="3.6"/><line x1="1403" y1="604" x2="1443" y2="604" stroke-width="1.9"/><line x1="1457" y1="543.6" x2="1497" y2="543.6" stroke-width="1.9"/><line x1="1457" y1="550.6" x2="1497" y2="550.6" stroke-width="3.6"/><line x1="1457" y1="557.6" x2="1497" y2="557.6" stroke-width="1.9"/><line x1="1457" y1="663.6" x2="1497" y2="663.6" stroke-width="1.9"/><line x1="1457" y1="670.6" x2="1497" y2="670.6" stroke-width="3.6"/><line x1="1457" y1="677.6" x2="1497" y2="677.6" stroke-width="1.9"/><line x1="1403" y1="700.6" x2="1443" y2="700.6" stroke-width="1.9"/><line x1="1403" y1="707.6" x2="1443" y2="707.6" stroke-width="3.6"/><line x1="1403" y1="714.6" x2="1443" y2="714.6" stroke-width="1.9"/><line x1="1533.6" y1="590" x2="1573.6" y2="590" stroke-width="1.9"/><line x1="1533.6" y1="597" x2="1573.6" y2="597" stroke-width="3.6"/><line x1="1533.6" y1="604" x2="1573.6" y2="604" stroke-width="1.9"/><line x1="1587.6" y1="543.6" x2="1627.6" y2="543.6" stroke-width="1.9"/><line x1="1587.6" y1="550.6" x2="1627.6" y2="550.6" stroke-width="3.6"/><line x1="1587.6" y1="557.6" x2="1627.6" y2="557.6" stroke-width="1.9"/><line x1="1587.6" y1="663.6" x2="1627.6" y2="663.6" stroke-width="1.9"/><line x1="1587.6" y1="670.6" x2="1627.6" y2="670.6" stroke-width="3.6"/><line x1="1587.6" y1="677.6" x2="1627.6" y2="677.6" stroke-width="1.9"/><line x1="1533.6" y1="700.6" x2="1573.6" y2="700.6" stroke-width="1.9"/><line x1="1533.6" y1="707.6" x2="1573.6" y2="707.6" stroke-width="3.6"/><line x1="1533.6" y1="714.6" x2="1573.6" y2="714.6" stroke-width="1.9"/></g><line x1="1410" y1="610.4" x2="1410" y2="688.6" stroke="#4664b0" stroke-width="1.6"/><polygon points="1410,596 1405,614 1415,614" fill="#4664b0"/><polygon points="1410,703 1405,685 1415,685" fill="#4664b0"/><line x1="1440.5" y1="602.7" x2="1461.5" y2="647.9" stroke="#e6393e" stroke-width="1.6"/><polygon points="1434.4,589.6 1437.5,608 1446.5,603.8" fill="#e6393e"/><polygon points="1467.6,661 1455.5,646.8 1464.5,642.6" fill="#e6393e"/><line x1="1467.7" y1="550.4" x2="1432.9" y2="694.6" stroke="#a8a8a8" stroke-width="0.9"/><polygon points="1469,545 1464.9,551.2 1469.8,552.4" fill="#a8a8a8"/><polygon points="1431.6,700 1430.8,692.6 1435.7,693.8" fill="#a8a8a8"/><line x1="1485.6" y1="556.6" x2="1485.6" y2="662.4" stroke="#a8a8a8" stroke-width="0.9"/><polygon points="1485.6,551 1483.1,558 1488.1,558" fill="#a8a8a8"/><polygon points="1485.6,668 1483.1,661 1488.1,661" fill="#a8a8a8"/><line x1="1538.4" y1="610.3" x2="1545.2" y2="682.7" stroke="#4664b0" stroke-width="1.6"/><polygon points="1537,596 1533.7,614.4 1543.7,613.4" fill="#4664b0"/><polygon points="1546.6,697 1539.9,679.6 1549.9,678.6" fill="#4664b0"/><line x1="1595.5" y1="571.9" x2="1561.9" y2="691.1" stroke="#e6393e" stroke-width="1.6"/><polygon points="1599.4,558 1589.7,574 1599.3,576.7" fill="#e6393e"/><polygon points="1558,705 1558.1,686.3 1567.7,689" fill="#e6393e"/><line x1="1564.3" y1="601.1" x2="1595.7" y2="669.9" stroke="#a8a8a8" stroke-width="0.9"/><polygon points="1562,596 1562.6,603.4 1567.2,601.3" fill="#a8a8a8"/><polygon points="1598,675 1592.8,669.7 1597.4,667.6" fill="#a8a8a8"/><line x1="1621" y1="549.6" x2="1613.4" y2="663.4" stroke="#a8a8a8" stroke-width="0.9"/><polygon points="1621.4,544 1618.4,550.8 1623.4,551.2" fill="#a8a8a8"/><polygon points="1613,669 1611,661.8 1616,662.2" fill="#a8a8a8"/>
<text class="s k" x="1031" y="758" style="font-size:37px">f)</text>
<clipPath id="clipP3"><rect x="1069" y="757.5" width="259" height="204"/></clipPath>
<g clip-path="url(#clipP3)">
<rect x="978.5" y="659.5" width="440" height="400" transform="rotate(-28 1198.5 859.5)" filter="url(#nzP)"/>
<radialGradient id="gP3" cx="1100" cy="900" r="1" gradientUnits="userSpaceOnUse" gradientTransform="translate(1100 900) scale(90 80) translate(-1100 -900)"><stop offset="0" stop-color="#fff" stop-opacity="0.9"/><stop offset="0.5" stop-color="#fff" stop-opacity="0.6"/><stop offset="1" stop-color="#fff" stop-opacity="0"/></radialGradient>
<mask id="mP3" maskUnits="userSpaceOnUse" x="1060" y="752.5" width="280" height="214"><rect x="1060" y="752.5" width="280" height="214" fill="url(#gP3)"/></mask>
<rect x="1069" y="757.5" width="259" height="204" filter="url(#nzP2)" mask="url(#mP3)"/>
<g filter="url(#blur1)" fill="none" stroke-linecap="round"><path d="M1109.2,823.4 C1113,819.9 1125,808.6 1132.2,802.5 C1139.3,796.4 1142.6,793.3 1151.9,786.7 C1161.2,780.1 1181.8,766.7 1187.8,762.7" stroke="#0a78c2" stroke-width="3" stroke-opacity="0.42"/><path d="M1107,821 C1110.8,817.5 1122.8,806.2 1130,800 C1137.2,793.8 1140.7,790.7 1150,784 C1159.3,777.3 1180,764 1186,760" stroke="#f2f6fa" stroke-width="3" stroke-opacity="0.70"/><path d="M1129,823.6 C1134.5,819.3 1150.5,805.8 1161.9,797.7 C1173.4,789.6 1191.8,778.6 1197.8,774.8" stroke="#0a78c2" stroke-width="3" stroke-opacity="0.36"/><path d="M1127,821 C1132.5,816.7 1148.5,803.2 1160,795 C1171.5,786.8 1190,775.8 1196,772" stroke="#f2f6fa" stroke-width="3" stroke-opacity="0.60"/><path d="M1181.3,817.4 C1185.6,815 1198.4,809.7 1206.7,803.2 C1215,796.6 1226.9,782.1 1231,777.9" stroke="#0a78c2" stroke-width="2.5" stroke-opacity="0.30"/><path d="M1180,815 C1184.2,812.7 1196.8,807.5 1205,801 C1213.2,794.5 1225,780.2 1229,776" stroke="#f2f6fa" stroke-width="2.5" stroke-opacity="0.50"/><path d="M1232.6,884.9 C1236.1,882.9 1246.4,876.9 1253.6,872.9 C1260.8,868.9 1268.5,865 1275.7,860.9 C1282.8,856.7 1290.2,851.8 1296.7,847.8 C1303.2,843.8 1311.7,838.6 1314.7,836.8" stroke="#0a78c2" stroke-width="3" stroke-opacity="0.45"/><path d="M1231,882 C1234.5,880 1244.8,874 1252,870 C1259.2,866 1266.8,862.2 1274,858 C1281.2,853.8 1288.5,849 1295,845 C1301.5,841 1310,835.8 1313,834" stroke="#f2f6fa" stroke-width="3" stroke-opacity="0.75"/><path d="M1100.9,852.6 C1105.9,850.9 1120.8,846 1130.9,842.6 C1140.9,839.3 1151,836.7 1161.1,832.5 C1171.1,828.3 1186.2,820 1191.2,817.5" stroke="#0a78c2" stroke-width="2.5" stroke-opacity="0.30"/><path d="M1100,850 C1105,848.3 1120,843.3 1130,840 C1140,836.7 1150,834.2 1160,830 C1170,825.8 1185,817.5 1190,815" stroke="#f2f6fa" stroke-width="2.5" stroke-opacity="0.50"/><path d="M1096.1,797.5 C1101.9,795 1120.2,787 1131.1,782.5 C1141.9,778 1156,772.6 1161,770.6" stroke="#0a78c2" stroke-width="2.5" stroke-opacity="0.30"/><path d="M1095,795 C1100.8,792.5 1119.2,784.5 1130,780 C1140.8,775.5 1155,770 1160,768" stroke="#f2f6fa" stroke-width="2.5" stroke-opacity="0.50"/><path d="M1141.2,802.5 C1146.2,800 1161.3,792.4 1171.2,787.5 C1181.2,782.5 1191.1,776.4 1201,772.6 C1210.9,768.8 1225.8,766 1230.7,764.7" stroke="#0a78c2" stroke-width="2.5" stroke-opacity="0.30"/><path d="M1140,800 C1145,797.5 1160,790 1170,785 C1180,780 1190,773.8 1200,770 C1210,766.2 1225,763.3 1230,762" stroke="#f2f6fa" stroke-width="2.5" stroke-opacity="0.50"/><path d="M1181,792.6 C1186,790.6 1200,783.9 1210.8,780.6 C1221.6,777.3 1239.8,774 1245.6,772.7" stroke="#0a78c2" stroke-width="2.5" stroke-opacity="0.24"/><path d="M1180,790 C1185,788 1199.2,781.3 1210,778 C1220.8,774.7 1239.2,771.3 1245,770" stroke="#f2f6fa" stroke-width="2.5" stroke-opacity="0.40"/><path d="M1211.6,882.9 C1218.2,879.2 1238.2,867.6 1251.5,861 C1264.8,854.3 1284.7,846 1291.4,843" stroke="#0a78c2" stroke-width="3" stroke-opacity="0.45"/><path d="M1210,880 C1216.7,876.3 1236.7,864.7 1250,858 C1263.3,851.3 1283.3,843 1290,840" stroke="#f2f6fa" stroke-width="3" stroke-opacity="0.75"/><path d="M1181.6,932.2 C1187.4,928.1 1204.9,915.3 1216.6,907.3 C1228.2,899.3 1245.7,888.1 1251.5,884.3" stroke="#0a78c2" stroke-width="2.5" stroke-opacity="0.30"/><path d="M1180,930 C1185.8,925.8 1203.3,913 1215,905 C1226.7,897 1244.2,885.8 1250,882" stroke="#f2f6fa" stroke-width="2.5" stroke-opacity="0.50"/><path d="M1241.2,822.5 C1247.9,819.1 1267.8,808.3 1281.1,802.5 C1294.4,796.7 1314.3,790.1 1321,787.6" stroke="#0a78c2" stroke-width="2.5" stroke-opacity="0.24"/><path d="M1240,820 C1246.7,816.7 1266.7,805.8 1280,800 C1293.3,794.2 1313.3,787.5 1320,785" stroke="#f2f6fa" stroke-width="2.5" stroke-opacity="0.40"/></g>
<g fill="none" stroke="#e8262c" stroke-width="1.8"><path d="M1069,846 C1076.2,851.7 1096.8,868 1112,880 C1127.2,892 1145.3,907.2 1160,918 C1174.7,928.8 1188.3,937.5 1200,945 C1211.7,952.5 1225,960 1230,963"/><path d="M1069,884.8 L1078.4,878.8 Q1086,874 1093.6,878.8 L1222,961"/><path d="M1069,885.8 L1164.4,937.5 Q1182,947 1200.9,953.6 L1222,961"/><path d="M1069,911.4 L1113.6,894.2 Q1122,891 1129.4,896.2 L1222,961"/><path d="M1069,912.4 L1162.9,941.1 Q1182,947 1200.9,953.6 L1222,961"/><path d="M1069,931.7 L1136.4,911.6 Q1145,909 1152.5,914 L1222,961"/><path d="M1069,932.7 L1162.2,944.5 Q1182,947 1200.9,953.6 L1222,961"/><path d="M1069,949.7 L1169,946.3 Q1178,946 1186.5,948.9 L1222,961"/><path d="M1069,950.7 L1162,947.7 Q1182,947 1200.9,953.6 L1222,961"/><path d="M1218,963 C1220.3,961.3 1222.3,958.2 1232,953 C1241.7,947.8 1259.7,939 1276,931.5 C1292.3,924 1321,911.9 1330,908"/><path d="M1218,963 C1220.3,961.3 1222.3,956.9 1232,953 C1241.7,949.1 1259.7,944.3 1276,939.5 C1292.3,934.7 1321,926.6 1330,924"/><path d="M1218,963 C1220.3,961.3 1222.3,956.7 1232,953 C1241.7,949.3 1259.7,945.3 1276,941 C1292.3,936.7 1321,929.3 1330,927"/><path d="M1218,963 C1220.3,961.3 1222.3,956.2 1232,953 C1241.7,949.8 1259.7,947 1276,943.5 C1292.3,940 1321,933.9 1330,932"/><path d="M1180,933 C1182.5,933.3 1185,935.5 1195,935 C1205,934.5 1217.5,934.7 1240,930 C1262.5,925.3 1315,910.8 1330,907"/></g>
</g>
<text font-family="Liberation Sans" font-size="200" fill="#000" transform="matrix(0.16071 0 0 0.16667 1077.03 796.60)" stroke="#000" stroke-width="4">Π</text>
<rect x="1069" y="757.5" width="644.5" height="204" fill="none" stroke="#1e1b1c" stroke-width="1.6"/>
<line x1="1328" y1="757.5" x2="1328" y2="961.5" stroke="#1e1b1c" stroke-width="1.8"/>
<g stroke="#1e1b1c" stroke-width="1.4"><line x1="1069" y1="825" x2="1073" y2="825"/><line x1="1069" y1="894" x2="1073" y2="894"/><line x1="1328" y1="825" x2="1324" y2="825"/><line x1="1328" y1="894" x2="1324" y2="894"/><line x1="1238" y1="757.5" x2="1238" y2="761"/><line x1="1248" y1="757.5" x2="1248" y2="761"/><line x1="1248" y1="961.5" x2="1248" y2="958"/></g>
<text font-family="Liberation Serif" font-size="200" fill="#000" transform="matrix(0.17000 0 0 0.17680 1346.65 789.20)">|</text><text font-family="Liberation Serif" font-size="200" font-style="italic" fill="#000" transform="matrix(0.16282 0 0 0.15625 1355.02 789.19)">e</text><text font-family="DejaVu Sans" font-size="200" fill="#000" transform="matrix(0.09059 0 0 0.16849 1370.89 792.70)">↑</text><text font-family="DejaVu Math TeX Gyre" font-size="200" fill="#000" transform="matrix(0.12857 0 0 0.19048 1384.79 791.28)">⟩</text>
<text font-family="Liberation Serif" font-size="200" fill="#000" transform="matrix(0.17000 0 0 0.17680 1346.65 835.90)">|</text><text font-family="Liberation Serif" font-size="200" font-style="italic" fill="#000" transform="matrix(0.16282 0 0 0.15625 1355.02 835.89)">e</text><text font-family="DejaVu Sans" font-size="200" fill="#000" transform="matrix(0.09059 0 0 0.16849 1370.89 840.10)">↓</text><text font-family="DejaVu Math TeX Gyre" font-size="200" fill="#000" transform="matrix(0.12857 0 0 0.19048 1384.79 837.98)">⟩</text>
<text font-family="Liberation Serif" font-size="200" fill="#000" transform="matrix(0.17000 0 0 0.17680 1346.65 909.90)">|</text><text font-family="Liberation Serif" font-size="200" font-style="italic" fill="#000" transform="matrix(0.16170 0 0 0.15441 1354.80 909.81)">g</text><text font-family="DejaVu Sans" font-size="200" fill="#000" transform="matrix(0.09059 0 0 0.16849 1370.89 913.40)">↑</text><text font-family="DejaVu Math TeX Gyre" font-size="200" fill="#000" transform="matrix(0.12857 0 0 0.19048 1384.79 911.98)">⟩</text>
<text font-family="Liberation Serif" font-size="200" fill="#000" transform="matrix(0.17000 0 0 0.17680 1346.65 945.90)">|</text><text font-family="Liberation Serif" font-size="200" font-style="italic" fill="#000" transform="matrix(0.16170 0 0 0.15441 1354.80 945.81)">g</text><text font-family="DejaVu Sans" font-size="200" fill="#000" transform="matrix(0.09059 0 0 0.16849 1370.89 950.10)">↓</text><text font-family="DejaVu Math TeX Gyre" font-size="200" fill="#000" transform="matrix(0.12857 0 0 0.19048 1384.79 947.98)">⟩</text>
<g stroke="#555" stroke-width="1"><line x1="1638.4" y1="781.7" x2="1638.4" y2="826.9"/><line x1="1636" y1="781.7" x2="1641" y2="781.7"/><line x1="1636" y1="826.9" x2="1641" y2="826.9"/></g><g stroke="#555" stroke-width="1"><line x1="1638.4" y1="901.8" x2="1638.4" y2="937.1"/><line x1="1636" y1="901.8" x2="1641" y2="901.8"/><line x1="1636" y1="937.1" x2="1641" y2="937.1"/></g><text font-family="DejaVu Math TeX Gyre" font-size="200" fill="#000" transform="matrix(0.18125 0 0 0.15616 1639.90 814.30)">Δ</text><text font-family="Liberation Serif" font-size="200" font-style="italic" fill="#000" transform="matrix(0.15128 0 0 0.12813 1670.19 821.84)">e</text><text font-family="DejaVu Math TeX Gyre" font-size="200" fill="#000" transform="matrix(0.17734 0 0 0.14932 1639.76 927.50)">Δ</text><text font-family="Liberation Serif" font-size="200" font-style="italic" fill="#000" transform="matrix(0.11383 0 0 0.10368 1667.00 932.25)">g</text>
<g stroke="#111" fill="none"><line x1="1467" y1="820.6" x2="1507" y2="820.6" stroke-width="1.9"/><line x1="1467" y1="827.6" x2="1507" y2="827.6" stroke-width="3.6"/><line x1="1467" y1="834.6" x2="1507" y2="834.6" stroke-width="1.9"/><line x1="1521" y1="774.4" x2="1561" y2="774.4" stroke-width="1.9"/><line x1="1521" y1="781.4" x2="1561" y2="781.4" stroke-width="3.6"/><line x1="1521" y1="788.4" x2="1561" y2="788.4" stroke-width="1.9"/><line x1="1521" y1="894" x2="1561" y2="894" stroke-width="1.9"/><line x1="1521" y1="901" x2="1561" y2="901" stroke-width="3.6"/><line x1="1521" y1="908" x2="1561" y2="908" stroke-width="1.9"/><line x1="1467" y1="931" x2="1507" y2="931" stroke-width="1.9"/><line x1="1467" y1="938" x2="1507" y2="938" stroke-width="3.6"/><line x1="1467" y1="945" x2="1507" y2="945" stroke-width="1.9"/></g><line x1="1487.4" y1="844.4" x2="1487.4" y2="921.6" stroke="#4664b0" stroke-width="1.6"/><polygon points="1487.4,830 1482.4,848 1492.4,848" fill="#4664b0"/><polygon points="1487.4,936 1482.4,918 1492.4,918" fill="#4664b0"/><line x1="1541.4" y1="804.4" x2="1541.4" y2="886.1" stroke="#e6393e" stroke-width="1.6"/><polygon points="1541.4,790 1536.4,808 1546.4,808" fill="#e6393e"/><polygon points="1541.4,900.5 1536.4,882.5 1546.4,882.5" fill="#e6393e"/>
</svg>
</body></html>
